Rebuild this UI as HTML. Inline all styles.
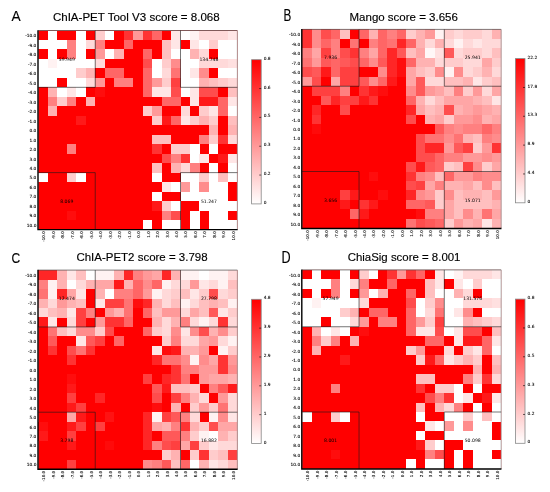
<!DOCTYPE html>
<html><head><meta charset="utf-8"><title>Figure</title>
<style>
html,body{margin:0;padding:0;background:#fff;}
svg{display:block}
text{font-family:"Liberation Sans","DejaVu Sans",sans-serif;fill:#000}
.t{font-size:11.6px;stroke:#000;stroke-width:0.15px}
.l{stroke:#000;stroke-width:0.12px}
.k,.x,.n{font-family:"DejaVu Sans","Liberation Sans",sans-serif;stroke:#000;stroke-width:0.07px}
.k{font-size:4.35px;stroke-width:0.08px}
.x{font-size:4.1px;stroke-width:0.1px}
.n{font-size:4.6px;stroke:none}
</style></head><body>
<svg width="550" height="492" viewBox="0 0 550 492">
<defs><linearGradient id="cb" x1="0" y1="0" x2="0" y2="1"><stop offset="0" stop-color="#ff0000"/><stop offset="1" stop-color="#ffffff"/></linearGradient></defs>
<rect width="550" height="492" fill="#fff"/>

<g>
<text class="l" font-size="15.3" transform="translate(11.60 21.4) scale(0.90 1)">A</text>
<text class="t" x="52.9" y="20.9" textLength="166.8" lengthAdjust="spacingAndGlyphs">ChIA-PET Tool V3 score = 8.068</text>
<rect x="38.40" y="30.50" width="198.95" height="198.95" fill="#ff0000"/>
<g shape-rendering="crispEdges">
<rect x="47.87" y="30.50" width="9.52" height="9.52" fill="#ffffff"/>
<rect x="76.30" y="30.50" width="9.52" height="9.52" fill="#ffffff"/>
<rect x="95.24" y="30.50" width="9.52" height="9.52" fill="#ffcccc"/>
<rect x="104.72" y="30.50" width="9.52" height="9.52" fill="#ffffff"/>
<rect x="123.67" y="30.50" width="9.52" height="9.52" fill="#ff3333"/>
<rect x="133.14" y="30.50" width="9.52" height="9.52" fill="#ff9999"/>
<rect x="142.61" y="30.50" width="9.52" height="9.52" fill="#ff3333"/>
<rect x="152.09" y="30.50" width="9.52" height="9.52" fill="#ff6666"/>
<rect x="171.04" y="30.50" width="9.52" height="9.52" fill="#ffe6e6"/>
<rect x="180.51" y="30.50" width="9.52" height="9.52" fill="#ffffff"/>
<rect x="189.98" y="30.50" width="9.52" height="9.52" fill="#fff2f2"/>
<rect x="199.46" y="30.50" width="28.47" height="9.52" fill="#ffd9d9"/>
<rect x="227.88" y="30.50" width="9.52" height="9.52" fill="#ffe6e6"/>
<rect x="38.40" y="39.97" width="28.47" height="9.52" fill="#ffffff"/>
<rect x="66.82" y="39.97" width="9.52" height="9.52" fill="#ff8080"/>
<rect x="76.30" y="39.97" width="9.52" height="9.52" fill="#ffffff"/>
<rect x="85.77" y="39.97" width="9.52" height="9.52" fill="#ffd9d9"/>
<rect x="95.24" y="39.97" width="9.52" height="9.52" fill="#ff8080"/>
<rect x="123.67" y="39.97" width="9.52" height="9.52" fill="#ff6666"/>
<rect x="161.56" y="39.97" width="9.52" height="9.52" fill="#ffbfbf"/>
<rect x="171.04" y="39.97" width="9.52" height="9.52" fill="#ffe6e6"/>
<rect x="189.98" y="39.97" width="9.52" height="9.52" fill="#ffe6e6"/>
<rect x="199.46" y="39.97" width="9.52" height="9.52" fill="#ffffff"/>
<rect x="208.93" y="39.97" width="9.52" height="9.52" fill="#ffcccc"/>
<rect x="218.41" y="39.97" width="19.00" height="9.52" fill="#ffffff"/>
<rect x="47.87" y="49.45" width="9.52" height="9.52" fill="#ffffff"/>
<rect x="66.82" y="49.45" width="9.52" height="9.52" fill="#ff8080"/>
<rect x="76.30" y="49.45" width="9.52" height="9.52" fill="#ffffff"/>
<rect x="95.24" y="49.45" width="9.52" height="9.52" fill="#ff9999"/>
<rect x="104.72" y="49.45" width="9.52" height="9.52" fill="#ffffff"/>
<rect x="114.19" y="49.45" width="9.52" height="9.52" fill="#ffb2b2"/>
<rect x="142.61" y="49.45" width="9.52" height="9.52" fill="#ff6666"/>
<rect x="161.56" y="49.45" width="9.52" height="9.52" fill="#ffbfbf"/>
<rect x="171.04" y="49.45" width="19.00" height="9.52" fill="#ffffff"/>
<rect x="189.98" y="49.45" width="9.52" height="9.52" fill="#ffb2b2"/>
<rect x="199.46" y="49.45" width="9.52" height="9.52" fill="#ffd9d9"/>
<rect x="218.41" y="49.45" width="19.00" height="9.52" fill="#ffffff"/>
<rect x="38.40" y="58.92" width="9.52" height="9.52" fill="#ffffff"/>
<rect x="47.87" y="58.92" width="9.52" height="9.52" fill="#fff2f2"/>
<rect x="57.35" y="58.92" width="37.95" height="9.52" fill="#ffffff"/>
<rect x="95.24" y="58.92" width="9.52" height="9.52" fill="#ffd9d9"/>
<rect x="142.61" y="58.92" width="9.52" height="9.52" fill="#ff4d4d"/>
<rect x="152.09" y="58.92" width="9.52" height="9.52" fill="#ffffff"/>
<rect x="161.56" y="58.92" width="9.52" height="9.52" fill="#ffcccc"/>
<rect x="171.04" y="58.92" width="9.52" height="9.52" fill="#ff8c8c"/>
<rect x="180.51" y="58.92" width="19.00" height="9.52" fill="#ffffff"/>
<rect x="199.46" y="58.92" width="28.47" height="9.52" fill="#ffd9d9"/>
<rect x="227.88" y="58.92" width="9.52" height="9.52" fill="#ffe0e0"/>
<rect x="38.40" y="68.40" width="37.95" height="9.52" fill="#ffffff"/>
<rect x="76.30" y="68.40" width="9.52" height="9.52" fill="#ffcccc"/>
<rect x="85.77" y="68.40" width="9.52" height="9.52" fill="#ffb2b2"/>
<rect x="104.72" y="68.40" width="19.00" height="9.52" fill="#ff6666"/>
<rect x="142.61" y="68.40" width="9.52" height="9.52" fill="#ff6666"/>
<rect x="152.09" y="68.40" width="9.52" height="9.52" fill="#ffffff"/>
<rect x="161.56" y="68.40" width="9.52" height="9.52" fill="#ffd9d9"/>
<rect x="171.04" y="68.40" width="9.52" height="9.52" fill="#ff7373"/>
<rect x="180.51" y="68.40" width="9.52" height="9.52" fill="#ffffff"/>
<rect x="189.98" y="68.40" width="9.52" height="9.52" fill="#ffe6e6"/>
<rect x="199.46" y="68.40" width="9.52" height="9.52" fill="#ff8c8c"/>
<rect x="218.41" y="68.40" width="19.00" height="9.52" fill="#ffffff"/>
<rect x="38.40" y="77.87" width="19.00" height="9.52" fill="#ffffff"/>
<rect x="66.82" y="77.87" width="19.00" height="9.52" fill="#ffffff"/>
<rect x="85.77" y="77.87" width="9.52" height="9.52" fill="#ffd9d9"/>
<rect x="95.24" y="77.87" width="9.52" height="9.52" fill="#ff9999"/>
<rect x="114.19" y="77.87" width="19.00" height="9.52" fill="#ff8080"/>
<rect x="142.61" y="77.87" width="9.52" height="9.52" fill="#ff6666"/>
<rect x="152.09" y="77.87" width="9.52" height="9.52" fill="#ff9999"/>
<rect x="161.56" y="77.87" width="9.52" height="9.52" fill="#ffcccc"/>
<rect x="171.04" y="77.87" width="9.52" height="9.52" fill="#ff4040"/>
<rect x="180.51" y="77.87" width="19.00" height="9.52" fill="#ffffff"/>
<rect x="199.46" y="77.87" width="9.52" height="9.52" fill="#ffb2b2"/>
<rect x="208.93" y="77.87" width="9.52" height="9.52" fill="#ffbfbf"/>
<rect x="218.41" y="77.87" width="9.52" height="9.52" fill="#ffcccc"/>
<rect x="227.88" y="77.87" width="9.52" height="9.52" fill="#ffd9d9"/>
<rect x="47.87" y="87.34" width="9.52" height="9.52" fill="#ffb2b2"/>
<rect x="57.35" y="87.34" width="9.52" height="9.52" fill="#ffffff"/>
<rect x="66.82" y="87.34" width="9.52" height="9.52" fill="#ffe6e6"/>
<rect x="76.30" y="87.34" width="9.52" height="9.52" fill="#ffffff"/>
<rect x="95.24" y="87.34" width="9.52" height="9.52" fill="#ff0d0d"/>
<rect x="142.61" y="87.34" width="9.52" height="9.52" fill="#ff6666"/>
<rect x="152.09" y="87.34" width="19.00" height="9.52" fill="#ffe6e6"/>
<rect x="171.04" y="87.34" width="9.52" height="9.52" fill="#ff4d4d"/>
<rect x="180.51" y="87.34" width="9.52" height="9.52" fill="#ffffff"/>
<rect x="189.98" y="87.34" width="9.52" height="9.52" fill="#ffe6e6"/>
<rect x="199.46" y="87.34" width="19.00" height="9.52" fill="#ff4d4d"/>
<rect x="227.88" y="87.34" width="9.52" height="9.52" fill="#ffbfbf"/>
<rect x="47.87" y="96.82" width="9.52" height="9.52" fill="#ff8080"/>
<rect x="57.35" y="96.82" width="9.52" height="9.52" fill="#ffcccc"/>
<rect x="66.82" y="96.82" width="9.52" height="9.52" fill="#ff8080"/>
<rect x="85.77" y="96.82" width="9.52" height="9.52" fill="#ffb2b2"/>
<rect x="161.56" y="96.82" width="19.00" height="9.52" fill="#ff6666"/>
<rect x="189.98" y="96.82" width="9.52" height="9.52" fill="#ffe6e6"/>
<rect x="199.46" y="96.82" width="19.00" height="9.52" fill="#ff1919"/>
<rect x="218.41" y="96.82" width="9.52" height="9.52" fill="#ff6666"/>
<rect x="227.88" y="96.82" width="9.52" height="9.52" fill="#ffe6e6"/>
<rect x="47.87" y="106.29" width="9.52" height="9.52" fill="#ffb2b2"/>
<rect x="142.61" y="106.29" width="9.52" height="9.52" fill="#ffcccc"/>
<rect x="152.09" y="106.29" width="9.52" height="9.52" fill="#ff9999"/>
<rect x="180.51" y="106.29" width="9.52" height="9.52" fill="#ffd9d9"/>
<rect x="199.46" y="106.29" width="9.52" height="9.52" fill="#ffcccc"/>
<rect x="208.93" y="106.29" width="9.52" height="9.52" fill="#ffe6e6"/>
<rect x="218.41" y="106.29" width="9.52" height="9.52" fill="#ff6666"/>
<rect x="227.88" y="106.29" width="9.52" height="9.52" fill="#ffffff"/>
<rect x="76.30" y="115.77" width="9.52" height="9.52" fill="#ff1919"/>
<rect x="152.09" y="115.77" width="9.52" height="9.52" fill="#ffcccc"/>
<rect x="161.56" y="115.77" width="9.52" height="9.52" fill="#ff1919"/>
<rect x="171.04" y="115.77" width="9.52" height="9.52" fill="#ff6666"/>
<rect x="180.51" y="115.77" width="9.52" height="9.52" fill="#ffe6e6"/>
<rect x="189.98" y="115.77" width="9.52" height="9.52" fill="#ffcccc"/>
<rect x="199.46" y="115.77" width="9.52" height="9.52" fill="#ffb2b2"/>
<rect x="208.93" y="115.77" width="9.52" height="9.52" fill="#ffcccc"/>
<rect x="227.88" y="115.77" width="9.52" height="9.52" fill="#ffbfbf"/>
<rect x="208.93" y="125.24" width="9.52" height="9.52" fill="#ffb2b2"/>
<rect x="227.88" y="125.24" width="9.52" height="9.52" fill="#ffb2b2"/>
<rect x="152.09" y="134.71" width="19.00" height="9.52" fill="#ffbfbf"/>
<rect x="199.46" y="134.71" width="9.52" height="9.52" fill="#ff8080"/>
<rect x="208.93" y="134.71" width="9.52" height="9.52" fill="#ffcccc"/>
<rect x="218.41" y="134.71" width="9.52" height="9.52" fill="#ff3333"/>
<rect x="227.88" y="134.71" width="9.52" height="9.52" fill="#ffd9d9"/>
<rect x="66.82" y="144.19" width="9.52" height="9.52" fill="#ff8080"/>
<rect x="152.09" y="144.19" width="9.52" height="9.52" fill="#ff3333"/>
<rect x="171.04" y="144.19" width="19.00" height="9.52" fill="#ffcccc"/>
<rect x="189.98" y="144.19" width="9.52" height="9.52" fill="#ffffff"/>
<rect x="208.93" y="144.19" width="9.52" height="9.52" fill="#ffffff"/>
<rect x="161.56" y="153.66" width="9.52" height="9.52" fill="#ff4d4d"/>
<rect x="171.04" y="153.66" width="9.52" height="9.52" fill="#ff8080"/>
<rect x="180.51" y="153.66" width="9.52" height="9.52" fill="#ff3333"/>
<rect x="189.98" y="153.66" width="9.52" height="9.52" fill="#ffffff"/>
<rect x="199.46" y="153.66" width="9.52" height="9.52" fill="#ffe6e6"/>
<rect x="218.41" y="153.66" width="9.52" height="9.52" fill="#ff1919"/>
<rect x="227.88" y="153.66" width="9.52" height="9.52" fill="#ffe6e6"/>
<rect x="152.09" y="163.14" width="9.52" height="9.52" fill="#ffbfbf"/>
<rect x="171.04" y="163.14" width="9.52" height="9.52" fill="#ffb2b2"/>
<rect x="180.51" y="163.14" width="9.52" height="9.52" fill="#ffd9d9"/>
<rect x="189.98" y="163.14" width="9.52" height="9.52" fill="#ff8080"/>
<rect x="208.93" y="163.14" width="9.52" height="9.52" fill="#ffffff"/>
<rect x="227.88" y="163.14" width="9.52" height="9.52" fill="#ffffff"/>
<rect x="38.40" y="172.61" width="9.52" height="9.52" fill="#ffffff"/>
<rect x="66.82" y="172.61" width="9.52" height="9.52" fill="#ffcccc"/>
<rect x="76.30" y="172.61" width="9.52" height="9.52" fill="#ffffff"/>
<rect x="152.09" y="172.61" width="9.52" height="9.52" fill="#ffffff"/>
<rect x="180.51" y="172.61" width="19.00" height="9.52" fill="#ffffff"/>
<rect x="199.46" y="172.61" width="9.52" height="9.52" fill="#ffcccc"/>
<rect x="208.93" y="172.61" width="9.52" height="9.52" fill="#ffffff"/>
<rect x="218.41" y="172.61" width="9.52" height="9.52" fill="#ffbfbf"/>
<rect x="227.88" y="172.61" width="9.52" height="9.52" fill="#ffffff"/>
<rect x="161.56" y="182.08" width="9.52" height="9.52" fill="#ffe6e6"/>
<rect x="171.04" y="182.08" width="9.52" height="9.52" fill="#ffffff"/>
<rect x="180.51" y="182.08" width="9.52" height="9.52" fill="#ff9999"/>
<rect x="189.98" y="182.08" width="9.52" height="9.52" fill="#ffffff"/>
<rect x="199.46" y="182.08" width="9.52" height="9.52" fill="#ff8c8c"/>
<rect x="208.93" y="182.08" width="19.00" height="9.52" fill="#ffffff"/>
<rect x="152.09" y="191.56" width="9.52" height="9.52" fill="#ffffff"/>
<rect x="180.51" y="191.56" width="47.42" height="9.52" fill="#ffffff"/>
<rect x="152.09" y="201.03" width="9.52" height="9.52" fill="#ff1919"/>
<rect x="161.56" y="201.03" width="9.52" height="9.52" fill="#ffcccc"/>
<rect x="171.04" y="201.03" width="9.52" height="9.52" fill="#ffffff"/>
<rect x="199.46" y="201.03" width="37.95" height="9.52" fill="#ffffff"/>
<rect x="66.82" y="210.51" width="9.52" height="9.52" fill="#ff0d0d"/>
<rect x="161.56" y="210.51" width="9.52" height="9.52" fill="#ff8080"/>
<rect x="171.04" y="210.51" width="9.52" height="9.52" fill="#ff4d4d"/>
<rect x="189.98" y="210.51" width="9.52" height="9.52" fill="#ffffff"/>
<rect x="208.93" y="210.51" width="19.00" height="9.52" fill="#ffffff"/>
<rect x="142.61" y="219.98" width="9.52" height="9.52" fill="#ffffff"/>
<rect x="161.56" y="219.98" width="19.00" height="9.52" fill="#ffffff"/>
<rect x="189.98" y="219.98" width="9.52" height="9.52" fill="#ffffff"/>
<rect x="208.93" y="219.98" width="28.47" height="9.52" fill="#ffffff"/>
</g>
<path d="M38.40 30.50H237.35" fill="none" stroke="#4a4a4a" stroke-width="0.7"/>
<path d="M237.35 30.50V229.45" fill="none" stroke="#888" stroke-width="0.7"/>
<path d="M38.40 87.34h56.84v-56.84 M237.35 87.34h-56.84v-56.84 M38.40 172.61h56.84v56.84 M237.35 172.61h-56.84v56.84" fill="none" stroke="#1a1a1a" stroke-width="0.6"/>
<path d="M38.00 30.20V229.60H237.65" fill="none" stroke="#000" stroke-width="1.4"/>
<text class="k" text-anchor="end" x="36.40" y="37.34">-10.0</text>
<text class="x" text-anchor="end" transform="translate(45.34 231.25) rotate(-90)">-10.0</text>
<text class="k" text-anchor="end" x="36.40" y="46.81">-9.0</text>
<text class="x" text-anchor="end" transform="translate(54.81 231.25) rotate(-90)">-9.0</text>
<text class="k" text-anchor="end" x="36.40" y="56.29">-8.0</text>
<text class="x" text-anchor="end" transform="translate(64.28 231.25) rotate(-90)">-8.0</text>
<text class="k" text-anchor="end" x="36.40" y="65.76">-7.0</text>
<text class="x" text-anchor="end" transform="translate(73.76 231.25) rotate(-90)">-7.0</text>
<text class="k" text-anchor="end" x="36.40" y="75.23">-6.0</text>
<text class="x" text-anchor="end" transform="translate(83.23 231.25) rotate(-90)">-6.0</text>
<text class="k" text-anchor="end" x="36.40" y="84.71">-5.0</text>
<text class="x" text-anchor="end" transform="translate(92.71 231.25) rotate(-90)">-5.0</text>
<text class="k" text-anchor="end" x="36.40" y="94.18">-4.0</text>
<text class="x" text-anchor="end" transform="translate(102.18 231.25) rotate(-90)">-4.0</text>
<text class="k" text-anchor="end" x="36.40" y="103.66">-3.0</text>
<text class="x" text-anchor="end" transform="translate(111.66 231.25) rotate(-90)">-3.0</text>
<text class="k" text-anchor="end" x="36.40" y="113.13">-2.0</text>
<text class="x" text-anchor="end" transform="translate(121.13 231.25) rotate(-90)">-2.0</text>
<text class="k" text-anchor="end" x="36.40" y="122.60">-1.0</text>
<text class="x" text-anchor="end" transform="translate(130.60 231.25) rotate(-90)">-1.0</text>
<text class="k" text-anchor="end" x="36.40" y="132.08">0.0</text>
<text class="x" text-anchor="end" transform="translate(140.08 231.25) rotate(-90)">0.0</text>
<text class="k" text-anchor="end" x="36.40" y="141.55">1.0</text>
<text class="x" text-anchor="end" transform="translate(149.55 231.25) rotate(-90)">1.0</text>
<text class="k" text-anchor="end" x="36.40" y="151.03">2.0</text>
<text class="x" text-anchor="end" transform="translate(159.02 231.25) rotate(-90)">2.0</text>
<text class="k" text-anchor="end" x="36.40" y="160.50">3.0</text>
<text class="x" text-anchor="end" transform="translate(168.50 231.25) rotate(-90)">3.0</text>
<text class="k" text-anchor="end" x="36.40" y="169.97">4.0</text>
<text class="x" text-anchor="end" transform="translate(177.97 231.25) rotate(-90)">4.0</text>
<text class="k" text-anchor="end" x="36.40" y="179.45">5.0</text>
<text class="x" text-anchor="end" transform="translate(187.45 231.25) rotate(-90)">5.0</text>
<text class="k" text-anchor="end" x="36.40" y="188.92">6.0</text>
<text class="x" text-anchor="end" transform="translate(196.92 231.25) rotate(-90)">6.0</text>
<text class="k" text-anchor="end" x="36.40" y="198.40">7.0</text>
<text class="x" text-anchor="end" transform="translate(206.40 231.25) rotate(-90)">7.0</text>
<text class="k" text-anchor="end" x="36.40" y="207.87">8.0</text>
<text class="x" text-anchor="end" transform="translate(215.87 231.25) rotate(-90)">8.0</text>
<text class="k" text-anchor="end" x="36.40" y="217.34">9.0</text>
<text class="x" text-anchor="end" transform="translate(225.34 231.25) rotate(-90)">9.0</text>
<text class="k" text-anchor="end" x="36.40" y="226.82">10.0</text>
<text class="x" text-anchor="end" transform="translate(234.82 231.25) rotate(-90)">10.0</text>
<text class="n" text-anchor="middle" x="66.82" y="60.53">59.949</text>
<text class="n" text-anchor="middle" x="208.93" y="60.53">134.748</text>
<text class="n" text-anchor="middle" x="66.82" y="202.64">8.069</text>
<text class="n" text-anchor="middle" x="208.93" y="202.64">51.247</text>
<rect x="251.60" y="59.70" width="9.60" height="144.20" fill="url(#cb)" stroke="#888" stroke-width="0.8"/>
<text class="k" x="263.70" y="59.80">0.8</text>
<path d="M261.20 88.54h-2" stroke="#000" stroke-width="0.6"/>
<text class="k" x="263.70" y="88.64">0.6</text>
<path d="M261.20 117.38h-2" stroke="#000" stroke-width="0.6"/>
<text class="k" x="263.70" y="117.48">0.5</text>
<path d="M261.20 146.22h-2" stroke="#000" stroke-width="0.6"/>
<text class="k" x="263.70" y="146.32">0.3</text>
<path d="M261.20 175.06h-2" stroke="#000" stroke-width="0.6"/>
<text class="k" x="263.70" y="175.16">0.2</text>
<text class="k" x="263.70" y="204.00">0</text>
</g>
<g>
<text class="l" font-size="15.8" transform="translate(283.40 20.7) scale(0.74 1)">B</text>
<text class="t" x="349.5" y="20.7" textLength="108.4" lengthAdjust="spacingAndGlyphs">Mango score = 3.656</text>
<rect x="302.20" y="29.40" width="198.95" height="198.95" fill="#ff0000"/>
<g shape-rendering="crispEdges">
<rect x="302.20" y="29.40" width="9.52" height="9.52" fill="#ff3333"/>
<rect x="311.67" y="29.40" width="9.52" height="9.52" fill="#ff8c8c"/>
<rect x="321.15" y="29.40" width="9.52" height="9.52" fill="#ff4d4d"/>
<rect x="330.62" y="29.40" width="9.52" height="9.52" fill="#ff6666"/>
<rect x="340.10" y="29.40" width="9.52" height="9.52" fill="#ffbfbf"/>
<rect x="359.04" y="29.40" width="9.52" height="9.52" fill="#ff6666"/>
<rect x="368.52" y="29.40" width="9.52" height="9.52" fill="#ffb2b2"/>
<rect x="377.99" y="29.40" width="9.52" height="9.52" fill="#ff6666"/>
<rect x="387.47" y="29.40" width="9.52" height="9.52" fill="#ff8080"/>
<rect x="396.94" y="29.40" width="9.52" height="9.52" fill="#ff6666"/>
<rect x="406.41" y="29.40" width="9.52" height="9.52" fill="#ffcccc"/>
<rect x="415.89" y="29.40" width="9.52" height="9.52" fill="#ffb2b2"/>
<rect x="425.36" y="29.40" width="9.52" height="9.52" fill="#ff9999"/>
<rect x="434.84" y="29.40" width="9.52" height="9.52" fill="#fff2f2"/>
<rect x="444.31" y="29.40" width="9.52" height="9.52" fill="#ffcccc"/>
<rect x="453.78" y="29.40" width="9.52" height="9.52" fill="#ffd9d9"/>
<rect x="463.26" y="29.40" width="19.00" height="9.52" fill="#ffcccc"/>
<rect x="482.21" y="29.40" width="9.52" height="9.52" fill="#ffd9d9"/>
<rect x="491.68" y="29.40" width="9.52" height="9.52" fill="#ffb2b2"/>
<rect x="302.20" y="38.87" width="9.52" height="9.52" fill="#ff3333"/>
<rect x="311.67" y="38.87" width="9.52" height="9.52" fill="#ff8c8c"/>
<rect x="321.15" y="38.87" width="9.52" height="9.52" fill="#ff6666"/>
<rect x="330.62" y="38.87" width="9.52" height="9.52" fill="#ff8080"/>
<rect x="349.57" y="38.87" width="9.52" height="9.52" fill="#ff7373"/>
<rect x="368.52" y="38.87" width="9.52" height="9.52" fill="#ff8080"/>
<rect x="377.99" y="38.87" width="9.52" height="9.52" fill="#ff6666"/>
<rect x="387.47" y="38.87" width="9.52" height="9.52" fill="#ff7373"/>
<rect x="396.94" y="38.87" width="9.52" height="9.52" fill="#ff2626"/>
<rect x="406.41" y="38.87" width="9.52" height="9.52" fill="#ff6666"/>
<rect x="415.89" y="38.87" width="9.52" height="9.52" fill="#ffb2b2"/>
<rect x="425.36" y="38.87" width="9.52" height="9.52" fill="#ffd9d9"/>
<rect x="434.84" y="38.87" width="9.52" height="9.52" fill="#ffb2b2"/>
<rect x="444.31" y="38.87" width="9.52" height="9.52" fill="#ffd9d9"/>
<rect x="453.78" y="38.87" width="9.52" height="9.52" fill="#fff2f2"/>
<rect x="463.26" y="38.87" width="9.52" height="9.52" fill="#ffd9d9"/>
<rect x="472.73" y="38.87" width="9.52" height="9.52" fill="#ffe6e6"/>
<rect x="482.21" y="38.87" width="19.00" height="9.52" fill="#ffd9d9"/>
<rect x="302.20" y="48.35" width="9.52" height="9.52" fill="#ff8080"/>
<rect x="311.67" y="48.35" width="9.52" height="9.52" fill="#ffa6a6"/>
<rect x="321.15" y="48.35" width="9.52" height="9.52" fill="#ff4040"/>
<rect x="330.62" y="48.35" width="9.52" height="9.52" fill="#ff8080"/>
<rect x="340.10" y="48.35" width="9.52" height="9.52" fill="#ff4d4d"/>
<rect x="349.57" y="48.35" width="9.52" height="9.52" fill="#ff3333"/>
<rect x="359.04" y="48.35" width="9.52" height="9.52" fill="#ff8080"/>
<rect x="368.52" y="48.35" width="9.52" height="9.52" fill="#ffa6a6"/>
<rect x="377.99" y="48.35" width="9.52" height="9.52" fill="#ff6666"/>
<rect x="387.47" y="48.35" width="9.52" height="9.52" fill="#ff2626"/>
<rect x="396.94" y="48.35" width="9.52" height="9.52" fill="#ff5959"/>
<rect x="406.41" y="48.35" width="9.52" height="9.52" fill="#ffbfbf"/>
<rect x="415.89" y="48.35" width="9.52" height="9.52" fill="#ffa6a6"/>
<rect x="425.36" y="48.35" width="9.52" height="9.52" fill="#fff7f7"/>
<rect x="434.84" y="48.35" width="9.52" height="9.52" fill="#ffe0e0"/>
<rect x="444.31" y="48.35" width="9.52" height="9.52" fill="#ff5959"/>
<rect x="453.78" y="48.35" width="9.52" height="9.52" fill="#ffd9d9"/>
<rect x="463.26" y="48.35" width="19.00" height="9.52" fill="#ffcccc"/>
<rect x="482.21" y="48.35" width="9.52" height="9.52" fill="#ffd9d9"/>
<rect x="491.68" y="48.35" width="9.52" height="9.52" fill="#ffbfbf"/>
<rect x="302.20" y="57.82" width="9.52" height="9.52" fill="#ff7373"/>
<rect x="311.67" y="57.82" width="9.52" height="9.52" fill="#ff9999"/>
<rect x="321.15" y="57.82" width="9.52" height="9.52" fill="#ff5959"/>
<rect x="330.62" y="57.82" width="9.52" height="9.52" fill="#ff6666"/>
<rect x="340.10" y="57.82" width="9.52" height="9.52" fill="#ff5959"/>
<rect x="349.57" y="57.82" width="9.52" height="9.52" fill="#ff4d4d"/>
<rect x="359.04" y="57.82" width="9.52" height="9.52" fill="#ff6666"/>
<rect x="368.52" y="57.82" width="9.52" height="9.52" fill="#ff8c8c"/>
<rect x="377.99" y="57.82" width="9.52" height="9.52" fill="#ff5959"/>
<rect x="387.47" y="57.82" width="9.52" height="9.52" fill="#ff2626"/>
<rect x="396.94" y="57.82" width="9.52" height="9.52" fill="#ff0d0d"/>
<rect x="406.41" y="57.82" width="9.52" height="9.52" fill="#ff6666"/>
<rect x="415.89" y="57.82" width="19.00" height="9.52" fill="#ffb2b2"/>
<rect x="434.84" y="57.82" width="9.52" height="9.52" fill="#ffd9d9"/>
<rect x="444.31" y="57.82" width="19.00" height="9.52" fill="#ffcccc"/>
<rect x="463.26" y="57.82" width="19.00" height="9.52" fill="#ffd9d9"/>
<rect x="482.21" y="57.82" width="9.52" height="9.52" fill="#ffa6a6"/>
<rect x="491.68" y="57.82" width="9.52" height="9.52" fill="#ffcccc"/>
<rect x="302.20" y="67.30" width="9.52" height="9.52" fill="#ff4d4d"/>
<rect x="311.67" y="67.30" width="9.52" height="9.52" fill="#ff5959"/>
<rect x="321.15" y="67.30" width="9.52" height="9.52" fill="#ff1919"/>
<rect x="330.62" y="67.30" width="9.52" height="9.52" fill="#ff6666"/>
<rect x="340.10" y="67.30" width="19.00" height="9.52" fill="#ff4040"/>
<rect x="377.99" y="67.30" width="9.52" height="9.52" fill="#ff8c8c"/>
<rect x="387.47" y="67.30" width="9.52" height="9.52" fill="#ff2626"/>
<rect x="396.94" y="67.30" width="9.52" height="9.52" fill="#ff0d0d"/>
<rect x="406.41" y="67.30" width="9.52" height="9.52" fill="#ffa6a6"/>
<rect x="415.89" y="67.30" width="9.52" height="9.52" fill="#ffbfbf"/>
<rect x="425.36" y="67.30" width="9.52" height="9.52" fill="#ffcccc"/>
<rect x="434.84" y="67.30" width="9.52" height="9.52" fill="#ff8c8c"/>
<rect x="444.31" y="67.30" width="9.52" height="9.52" fill="#fff2f2"/>
<rect x="453.78" y="67.30" width="9.52" height="9.52" fill="#ff8c8c"/>
<rect x="463.26" y="67.30" width="9.52" height="9.52" fill="#ffd9d9"/>
<rect x="472.73" y="67.30" width="9.52" height="9.52" fill="#ffcccc"/>
<rect x="482.21" y="67.30" width="9.52" height="9.52" fill="#ffb2b2"/>
<rect x="491.68" y="67.30" width="9.52" height="9.52" fill="#ffd9d9"/>
<rect x="302.20" y="76.77" width="9.52" height="9.52" fill="#ff9999"/>
<rect x="311.67" y="76.77" width="9.52" height="9.52" fill="#ff4d4d"/>
<rect x="330.62" y="76.77" width="9.52" height="9.52" fill="#ffa6a6"/>
<rect x="340.10" y="76.77" width="19.00" height="9.52" fill="#ff4040"/>
<rect x="359.04" y="76.77" width="9.52" height="9.52" fill="#ff5959"/>
<rect x="368.52" y="76.77" width="9.52" height="9.52" fill="#ff8c8c"/>
<rect x="377.99" y="76.77" width="9.52" height="9.52" fill="#ff6666"/>
<rect x="387.47" y="76.77" width="9.52" height="9.52" fill="#ff1919"/>
<rect x="406.41" y="76.77" width="9.52" height="9.52" fill="#ffa6a6"/>
<rect x="415.89" y="76.77" width="9.52" height="9.52" fill="#ff5959"/>
<rect x="425.36" y="76.77" width="19.00" height="9.52" fill="#ffd9d9"/>
<rect x="444.31" y="76.77" width="19.00" height="9.52" fill="#ffbfbf"/>
<rect x="463.26" y="76.77" width="9.52" height="9.52" fill="#ffb2b2"/>
<rect x="472.73" y="76.77" width="9.52" height="9.52" fill="#ffe6e6"/>
<rect x="482.21" y="76.77" width="9.52" height="9.52" fill="#ffcccc"/>
<rect x="491.68" y="76.77" width="9.52" height="9.52" fill="#ffbfbf"/>
<rect x="311.67" y="86.24" width="28.47" height="9.52" fill="#ff4040"/>
<rect x="340.10" y="86.24" width="9.52" height="9.52" fill="#ff8080"/>
<rect x="359.04" y="86.24" width="9.52" height="9.52" fill="#ff3333"/>
<rect x="368.52" y="86.24" width="9.52" height="9.52" fill="#ff1919"/>
<rect x="377.99" y="86.24" width="9.52" height="9.52" fill="#ff0d0d"/>
<rect x="406.41" y="86.24" width="9.52" height="9.52" fill="#ff8c8c"/>
<rect x="415.89" y="86.24" width="9.52" height="9.52" fill="#ff5959"/>
<rect x="425.36" y="86.24" width="9.52" height="9.52" fill="#ff9999"/>
<rect x="434.84" y="86.24" width="9.52" height="9.52" fill="#ffa6a6"/>
<rect x="444.31" y="86.24" width="9.52" height="9.52" fill="#ffbfbf"/>
<rect x="453.78" y="86.24" width="9.52" height="9.52" fill="#ff8080"/>
<rect x="463.26" y="86.24" width="9.52" height="9.52" fill="#ffcccc"/>
<rect x="472.73" y="86.24" width="9.52" height="9.52" fill="#ff9999"/>
<rect x="482.21" y="86.24" width="9.52" height="9.52" fill="#ffd9d9"/>
<rect x="491.68" y="86.24" width="9.52" height="9.52" fill="#ffa6a6"/>
<rect x="321.15" y="95.72" width="9.52" height="9.52" fill="#ff5959"/>
<rect x="330.62" y="95.72" width="9.52" height="9.52" fill="#ff2626"/>
<rect x="340.10" y="95.72" width="19.00" height="9.52" fill="#ff4040"/>
<rect x="359.04" y="95.72" width="9.52" height="9.52" fill="#ff1919"/>
<rect x="368.52" y="95.72" width="9.52" height="9.52" fill="#ff3333"/>
<rect x="406.41" y="95.72" width="9.52" height="9.52" fill="#ff6666"/>
<rect x="415.89" y="95.72" width="9.52" height="9.52" fill="#ffb2b2"/>
<rect x="425.36" y="95.72" width="9.52" height="9.52" fill="#ffd9d9"/>
<rect x="434.84" y="95.72" width="9.52" height="9.52" fill="#ffbfbf"/>
<rect x="444.31" y="95.72" width="28.47" height="9.52" fill="#ffa6a6"/>
<rect x="472.73" y="95.72" width="9.52" height="9.52" fill="#ffb2b2"/>
<rect x="482.21" y="95.72" width="9.52" height="9.52" fill="#ffbfbf"/>
<rect x="491.68" y="95.72" width="9.52" height="9.52" fill="#ffe6e6"/>
<rect x="311.67" y="105.19" width="9.52" height="9.52" fill="#ff2626"/>
<rect x="340.10" y="105.19" width="9.52" height="9.52" fill="#ff4d4d"/>
<rect x="406.41" y="105.19" width="9.52" height="9.52" fill="#ff2626"/>
<rect x="415.89" y="105.19" width="9.52" height="9.52" fill="#ffa6a6"/>
<rect x="425.36" y="105.19" width="9.52" height="9.52" fill="#ffbfbf"/>
<rect x="434.84" y="105.19" width="9.52" height="9.52" fill="#ffb2b2"/>
<rect x="444.31" y="105.19" width="9.52" height="9.52" fill="#ff4d4d"/>
<rect x="453.78" y="105.19" width="9.52" height="9.52" fill="#ffb2b2"/>
<rect x="463.26" y="105.19" width="9.52" height="9.52" fill="#ffa6a6"/>
<rect x="472.73" y="105.19" width="9.52" height="9.52" fill="#ff9999"/>
<rect x="482.21" y="105.19" width="9.52" height="9.52" fill="#ffa6a6"/>
<rect x="491.68" y="105.19" width="9.52" height="9.52" fill="#ffb2b2"/>
<rect x="311.67" y="114.67" width="9.52" height="9.52" fill="#ff3333"/>
<rect x="406.41" y="114.67" width="9.52" height="9.52" fill="#ff4d4d"/>
<rect x="425.36" y="114.67" width="9.52" height="9.52" fill="#ffb2b2"/>
<rect x="434.84" y="114.67" width="9.52" height="9.52" fill="#ffa6a6"/>
<rect x="444.31" y="114.67" width="9.52" height="9.52" fill="#ffcccc"/>
<rect x="453.78" y="114.67" width="19.00" height="9.52" fill="#ff9999"/>
<rect x="472.73" y="114.67" width="9.52" height="9.52" fill="#ff8c8c"/>
<rect x="482.21" y="114.67" width="9.52" height="9.52" fill="#ffb2b2"/>
<rect x="491.68" y="114.67" width="9.52" height="9.52" fill="#ffa6a6"/>
<rect x="311.67" y="124.14" width="9.52" height="9.52" fill="#ff0a0a"/>
<rect x="434.84" y="124.14" width="9.52" height="9.52" fill="#ff5959"/>
<rect x="444.31" y="124.14" width="9.52" height="9.52" fill="#ff8080"/>
<rect x="453.78" y="124.14" width="9.52" height="9.52" fill="#ff8c8c"/>
<rect x="463.26" y="124.14" width="19.00" height="9.52" fill="#ff8080"/>
<rect x="482.21" y="124.14" width="9.52" height="9.52" fill="#ff6666"/>
<rect x="491.68" y="124.14" width="9.52" height="9.52" fill="#ff8080"/>
<rect x="415.89" y="133.61" width="9.52" height="9.52" fill="#ff4d4d"/>
<rect x="425.36" y="133.61" width="19.00" height="9.52" fill="#ff7373"/>
<rect x="444.31" y="133.61" width="9.52" height="9.52" fill="#ff8c8c"/>
<rect x="453.78" y="133.61" width="9.52" height="9.52" fill="#ff7373"/>
<rect x="463.26" y="133.61" width="9.52" height="9.52" fill="#ffb2b2"/>
<rect x="472.73" y="133.61" width="9.52" height="9.52" fill="#ffbfbf"/>
<rect x="482.21" y="133.61" width="9.52" height="9.52" fill="#ff8080"/>
<rect x="491.68" y="133.61" width="9.52" height="9.52" fill="#ff8c8c"/>
<rect x="415.89" y="143.09" width="9.52" height="9.52" fill="#ff4d4d"/>
<rect x="425.36" y="143.09" width="19.00" height="9.52" fill="#ff2626"/>
<rect x="444.31" y="143.09" width="9.52" height="9.52" fill="#ff9999"/>
<rect x="453.78" y="143.09" width="9.52" height="9.52" fill="#ff5959"/>
<rect x="463.26" y="143.09" width="9.52" height="9.52" fill="#ff4040"/>
<rect x="472.73" y="143.09" width="9.52" height="9.52" fill="#ffcccc"/>
<rect x="482.21" y="143.09" width="9.52" height="9.52" fill="#ff9999"/>
<rect x="491.68" y="143.09" width="9.52" height="9.52" fill="#ff3333"/>
<rect x="415.89" y="152.56" width="19.00" height="9.52" fill="#ff4d4d"/>
<rect x="434.84" y="152.56" width="9.52" height="9.52" fill="#ff6666"/>
<rect x="444.31" y="152.56" width="19.00" height="9.52" fill="#ff8080"/>
<rect x="463.26" y="152.56" width="19.00" height="9.52" fill="#ff9999"/>
<rect x="482.21" y="152.56" width="9.52" height="9.52" fill="#ff8c8c"/>
<rect x="491.68" y="152.56" width="9.52" height="9.52" fill="#ff9999"/>
<rect x="406.41" y="162.04" width="9.52" height="9.52" fill="#ff4d4d"/>
<rect x="415.89" y="162.04" width="9.52" height="9.52" fill="#ff1919"/>
<rect x="425.36" y="162.04" width="9.52" height="9.52" fill="#ff5959"/>
<rect x="434.84" y="162.04" width="9.52" height="9.52" fill="#ff6666"/>
<rect x="444.31" y="162.04" width="9.52" height="9.52" fill="#ffcccc"/>
<rect x="453.78" y="162.04" width="9.52" height="9.52" fill="#ffbfbf"/>
<rect x="463.26" y="162.04" width="9.52" height="9.52" fill="#ff4040"/>
<rect x="472.73" y="162.04" width="9.52" height="9.52" fill="#ff8c8c"/>
<rect x="482.21" y="162.04" width="9.52" height="9.52" fill="#ffcccc"/>
<rect x="491.68" y="162.04" width="9.52" height="9.52" fill="#ffa6a6"/>
<rect x="368.52" y="171.51" width="9.52" height="9.52" fill="#ff0d0d"/>
<rect x="406.41" y="171.51" width="9.52" height="9.52" fill="#ff3333"/>
<rect x="415.89" y="171.51" width="9.52" height="9.52" fill="#ff8080"/>
<rect x="425.36" y="171.51" width="9.52" height="9.52" fill="#ff8c8c"/>
<rect x="434.84" y="171.51" width="9.52" height="9.52" fill="#ffbfbf"/>
<rect x="444.31" y="171.51" width="9.52" height="9.52" fill="#ff6666"/>
<rect x="453.78" y="171.51" width="19.00" height="9.52" fill="#ff9999"/>
<rect x="472.73" y="171.51" width="9.52" height="9.52" fill="#ff8080"/>
<rect x="482.21" y="171.51" width="19.00" height="9.52" fill="#ff8c8c"/>
<rect x="406.41" y="180.98" width="9.52" height="9.52" fill="#ff4d4d"/>
<rect x="415.89" y="180.98" width="9.52" height="9.52" fill="#ff4040"/>
<rect x="425.36" y="180.98" width="9.52" height="9.52" fill="#ffa6a6"/>
<rect x="434.84" y="180.98" width="9.52" height="9.52" fill="#ff8080"/>
<rect x="444.31" y="180.98" width="19.00" height="9.52" fill="#ffb2b2"/>
<rect x="463.26" y="180.98" width="9.52" height="9.52" fill="#ffa6a6"/>
<rect x="472.73" y="180.98" width="9.52" height="9.52" fill="#ffbfbf"/>
<rect x="482.21" y="180.98" width="9.52" height="9.52" fill="#ff8c8c"/>
<rect x="491.68" y="180.98" width="9.52" height="9.52" fill="#ffbfbf"/>
<rect x="340.10" y="190.46" width="9.52" height="9.52" fill="#ff4040"/>
<rect x="349.57" y="190.46" width="9.52" height="9.52" fill="#ff1919"/>
<rect x="377.99" y="190.46" width="9.52" height="9.52" fill="#ff0d0d"/>
<rect x="406.41" y="190.46" width="9.52" height="9.52" fill="#ff2626"/>
<rect x="415.89" y="190.46" width="9.52" height="9.52" fill="#ff8c8c"/>
<rect x="425.36" y="190.46" width="9.52" height="9.52" fill="#ff9999"/>
<rect x="434.84" y="190.46" width="9.52" height="9.52" fill="#ffcccc"/>
<rect x="444.31" y="190.46" width="9.52" height="9.52" fill="#ff8c8c"/>
<rect x="453.78" y="190.46" width="9.52" height="9.52" fill="#ffbfbf"/>
<rect x="463.26" y="190.46" width="19.00" height="9.52" fill="#ffb2b2"/>
<rect x="482.21" y="190.46" width="9.52" height="9.52" fill="#ffbfbf"/>
<rect x="491.68" y="190.46" width="9.52" height="9.52" fill="#ff9999"/>
<rect x="340.10" y="199.93" width="9.52" height="9.52" fill="#ff1919"/>
<rect x="359.04" y="199.93" width="9.52" height="9.52" fill="#ff3333"/>
<rect x="368.52" y="199.93" width="9.52" height="9.52" fill="#ff1919"/>
<rect x="406.41" y="199.93" width="19.00" height="9.52" fill="#ff6666"/>
<rect x="425.36" y="199.93" width="9.52" height="9.52" fill="#ff5959"/>
<rect x="434.84" y="199.93" width="9.52" height="9.52" fill="#ffcccc"/>
<rect x="444.31" y="199.93" width="9.52" height="9.52" fill="#ffa6a6"/>
<rect x="453.78" y="199.93" width="37.95" height="9.52" fill="#ffbfbf"/>
<rect x="491.68" y="199.93" width="9.52" height="9.52" fill="#ffb2b2"/>
<rect x="349.57" y="209.41" width="9.52" height="9.52" fill="#ff6666"/>
<rect x="359.04" y="209.41" width="9.52" height="9.52" fill="#ff1919"/>
<rect x="415.89" y="209.41" width="9.52" height="9.52" fill="#ff0d0d"/>
<rect x="425.36" y="209.41" width="19.00" height="9.52" fill="#ff8080"/>
<rect x="444.31" y="209.41" width="9.52" height="9.52" fill="#ffa6a6"/>
<rect x="453.78" y="209.41" width="9.52" height="9.52" fill="#ffbfbf"/>
<rect x="463.26" y="209.41" width="9.52" height="9.52" fill="#ff8c8c"/>
<rect x="472.73" y="209.41" width="9.52" height="9.52" fill="#ffb2b2"/>
<rect x="482.21" y="209.41" width="9.52" height="9.52" fill="#ff7373"/>
<rect x="491.68" y="209.41" width="9.52" height="9.52" fill="#ffa6a6"/>
<rect x="406.41" y="218.88" width="9.52" height="9.52" fill="#ff7373"/>
<rect x="415.89" y="218.88" width="9.52" height="9.52" fill="#ff4d4d"/>
<rect x="425.36" y="218.88" width="9.52" height="9.52" fill="#ff5959"/>
<rect x="434.84" y="218.88" width="9.52" height="9.52" fill="#ff6666"/>
<rect x="444.31" y="218.88" width="9.52" height="9.52" fill="#ffcccc"/>
<rect x="453.78" y="218.88" width="9.52" height="9.52" fill="#ff9999"/>
<rect x="463.26" y="218.88" width="9.52" height="9.52" fill="#ffb2b2"/>
<rect x="472.73" y="218.88" width="9.52" height="9.52" fill="#ffa6a6"/>
<rect x="482.21" y="218.88" width="9.52" height="9.52" fill="#ffe6e6"/>
<rect x="491.68" y="218.88" width="9.52" height="9.52" fill="#ffb2b2"/>
</g>
<path d="M302.20 29.40H501.15" fill="none" stroke="#4a4a4a" stroke-width="0.7"/>
<path d="M501.15 29.40V228.35" fill="none" stroke="#888" stroke-width="0.7"/>
<path d="M302.20 86.24h56.84v-56.84 M501.15 86.24h-56.84v-56.84 M302.20 171.51h56.84v56.84 M501.15 171.51h-56.84v56.84" fill="none" stroke="#1a1a1a" stroke-width="0.6"/>
<path d="M301.80 29.10V228.50H501.45" fill="none" stroke="#000" stroke-width="1.4"/>
<text class="k" text-anchor="end" x="300.20" y="36.24">-10.0</text>
<text class="x" text-anchor="end" transform="translate(309.14 230.15) rotate(-90)">-10.0</text>
<text class="k" text-anchor="end" x="300.20" y="45.71">-9.0</text>
<text class="x" text-anchor="end" transform="translate(318.61 230.15) rotate(-90)">-9.0</text>
<text class="k" text-anchor="end" x="300.20" y="55.19">-8.0</text>
<text class="x" text-anchor="end" transform="translate(328.08 230.15) rotate(-90)">-8.0</text>
<text class="k" text-anchor="end" x="300.20" y="64.66">-7.0</text>
<text class="x" text-anchor="end" transform="translate(337.56 230.15) rotate(-90)">-7.0</text>
<text class="k" text-anchor="end" x="300.20" y="74.13">-6.0</text>
<text class="x" text-anchor="end" transform="translate(347.03 230.15) rotate(-90)">-6.0</text>
<text class="k" text-anchor="end" x="300.20" y="83.61">-5.0</text>
<text class="x" text-anchor="end" transform="translate(356.51 230.15) rotate(-90)">-5.0</text>
<text class="k" text-anchor="end" x="300.20" y="93.08">-4.0</text>
<text class="x" text-anchor="end" transform="translate(365.98 230.15) rotate(-90)">-4.0</text>
<text class="k" text-anchor="end" x="300.20" y="102.56">-3.0</text>
<text class="x" text-anchor="end" transform="translate(375.45 230.15) rotate(-90)">-3.0</text>
<text class="k" text-anchor="end" x="300.20" y="112.03">-2.0</text>
<text class="x" text-anchor="end" transform="translate(384.93 230.15) rotate(-90)">-2.0</text>
<text class="k" text-anchor="end" x="300.20" y="121.50">-1.0</text>
<text class="x" text-anchor="end" transform="translate(394.40 230.15) rotate(-90)">-1.0</text>
<text class="k" text-anchor="end" x="300.20" y="130.98">0.0</text>
<text class="x" text-anchor="end" transform="translate(403.88 230.15) rotate(-90)">0.0</text>
<text class="k" text-anchor="end" x="300.20" y="140.45">1.0</text>
<text class="x" text-anchor="end" transform="translate(413.35 230.15) rotate(-90)">1.0</text>
<text class="k" text-anchor="end" x="300.20" y="149.92">2.0</text>
<text class="x" text-anchor="end" transform="translate(422.82 230.15) rotate(-90)">2.0</text>
<text class="k" text-anchor="end" x="300.20" y="159.40">3.0</text>
<text class="x" text-anchor="end" transform="translate(432.30 230.15) rotate(-90)">3.0</text>
<text class="k" text-anchor="end" x="300.20" y="168.87">4.0</text>
<text class="x" text-anchor="end" transform="translate(441.77 230.15) rotate(-90)">4.0</text>
<text class="k" text-anchor="end" x="300.20" y="178.35">5.0</text>
<text class="x" text-anchor="end" transform="translate(451.25 230.15) rotate(-90)">5.0</text>
<text class="k" text-anchor="end" x="300.20" y="187.82">6.0</text>
<text class="x" text-anchor="end" transform="translate(460.72 230.15) rotate(-90)">6.0</text>
<text class="k" text-anchor="end" x="300.20" y="197.30">7.0</text>
<text class="x" text-anchor="end" transform="translate(470.19 230.15) rotate(-90)">7.0</text>
<text class="k" text-anchor="end" x="300.20" y="206.77">8.0</text>
<text class="x" text-anchor="end" transform="translate(479.67 230.15) rotate(-90)">8.0</text>
<text class="k" text-anchor="end" x="300.20" y="216.24">9.0</text>
<text class="x" text-anchor="end" transform="translate(489.14 230.15) rotate(-90)">9.0</text>
<text class="k" text-anchor="end" x="300.20" y="225.72">10.0</text>
<text class="x" text-anchor="end" transform="translate(498.62 230.15) rotate(-90)">10.0</text>
<text class="n" text-anchor="middle" x="330.62" y="59.43">7.936</text>
<text class="n" text-anchor="middle" x="472.73" y="59.43">25.941</text>
<text class="n" text-anchor="middle" x="330.62" y="201.54">3.656</text>
<text class="n" text-anchor="middle" x="472.73" y="201.54">15.071</text>
<rect x="515.40" y="58.60" width="9.60" height="144.20" fill="url(#cb)" stroke="#888" stroke-width="0.8"/>
<text class="k" x="527.50" y="58.70">22.2</text>
<path d="M525.00 87.44h-2" stroke="#000" stroke-width="0.6"/>
<text class="k" x="527.50" y="87.54">17.8</text>
<path d="M525.00 116.28h-2" stroke="#000" stroke-width="0.6"/>
<text class="k" x="527.50" y="116.38">13.3</text>
<path d="M525.00 145.12h-2" stroke="#000" stroke-width="0.6"/>
<text class="k" x="527.50" y="145.22">8.9</text>
<path d="M525.00 173.96h-2" stroke="#000" stroke-width="0.6"/>
<text class="k" x="527.50" y="174.06">4.4</text>
<text class="k" x="527.50" y="202.90">0</text>
</g>
<g>
<text class="l" font-size="15.5" transform="translate(11.40 263.2) scale(0.78 1)">C</text>
<text class="t" x="76.4" y="260.7" textLength="131.2" lengthAdjust="spacingAndGlyphs">ChIA-PET2 score = 3.798</text>
<rect x="38.40" y="270.10" width="198.95" height="198.95" fill="#ff0000"/>
<g shape-rendering="crispEdges">
<rect x="38.40" y="270.10" width="19.00" height="9.52" fill="#ff2626"/>
<rect x="57.35" y="270.10" width="9.52" height="9.52" fill="#ffb2b2"/>
<rect x="66.82" y="270.10" width="9.52" height="9.52" fill="#ffe6e6"/>
<rect x="76.30" y="270.10" width="9.52" height="9.52" fill="#ffbfbf"/>
<rect x="85.77" y="270.10" width="9.52" height="9.52" fill="#ffffff"/>
<rect x="95.24" y="270.10" width="19.00" height="9.52" fill="#fff2f2"/>
<rect x="114.19" y="270.10" width="9.52" height="9.52" fill="#ffb2b2"/>
<rect x="123.67" y="270.10" width="9.52" height="9.52" fill="#ff2626"/>
<rect x="133.14" y="270.10" width="9.52" height="9.52" fill="#ff8080"/>
<rect x="142.61" y="270.10" width="9.52" height="9.52" fill="#ff9999"/>
<rect x="152.09" y="270.10" width="9.52" height="9.52" fill="#ffa6a6"/>
<rect x="161.56" y="270.10" width="9.52" height="9.52" fill="#ff2626"/>
<rect x="171.04" y="270.10" width="9.52" height="9.52" fill="#ffb2b2"/>
<rect x="180.51" y="270.10" width="19.00" height="9.52" fill="#fff2f2"/>
<rect x="199.46" y="270.10" width="9.52" height="9.52" fill="#ffffff"/>
<rect x="208.93" y="270.10" width="19.00" height="9.52" fill="#fff2f2"/>
<rect x="227.88" y="270.10" width="9.52" height="9.52" fill="#ffd9d9"/>
<rect x="38.40" y="279.57" width="9.52" height="9.52" fill="#ff8080"/>
<rect x="47.87" y="279.57" width="9.52" height="9.52" fill="#fff2f2"/>
<rect x="57.35" y="279.57" width="9.52" height="9.52" fill="#ffb2b2"/>
<rect x="66.82" y="279.57" width="9.52" height="9.52" fill="#ffffff"/>
<rect x="76.30" y="279.57" width="9.52" height="9.52" fill="#ffd9d9"/>
<rect x="85.77" y="279.57" width="9.52" height="9.52" fill="#ffb2b2"/>
<rect x="95.24" y="279.57" width="19.00" height="9.52" fill="#ffa6a6"/>
<rect x="114.19" y="279.57" width="9.52" height="9.52" fill="#ff1919"/>
<rect x="123.67" y="279.57" width="9.52" height="9.52" fill="#ffb2b2"/>
<rect x="133.14" y="279.57" width="9.52" height="9.52" fill="#ff6666"/>
<rect x="142.61" y="279.57" width="9.52" height="9.52" fill="#ff8c8c"/>
<rect x="152.09" y="279.57" width="9.52" height="9.52" fill="#ff6666"/>
<rect x="161.56" y="279.57" width="9.52" height="9.52" fill="#fff2f2"/>
<rect x="171.04" y="279.57" width="19.00" height="9.52" fill="#ffd9d9"/>
<rect x="189.98" y="279.57" width="9.52" height="9.52" fill="#ff9999"/>
<rect x="199.46" y="279.57" width="9.52" height="9.52" fill="#ffe6e6"/>
<rect x="208.93" y="279.57" width="9.52" height="9.52" fill="#ffd9d9"/>
<rect x="218.41" y="279.57" width="9.52" height="9.52" fill="#fff2f2"/>
<rect x="227.88" y="279.57" width="9.52" height="9.52" fill="#ffbfbf"/>
<rect x="38.40" y="289.05" width="9.52" height="9.52" fill="#ff7373"/>
<rect x="47.87" y="289.05" width="9.52" height="9.52" fill="#fff2f2"/>
<rect x="57.35" y="289.05" width="9.52" height="9.52" fill="#ff2626"/>
<rect x="66.82" y="289.05" width="9.52" height="9.52" fill="#ffa6a6"/>
<rect x="76.30" y="289.05" width="9.52" height="9.52" fill="#ffe6e6"/>
<rect x="95.24" y="289.05" width="9.52" height="9.52" fill="#ffb2b2"/>
<rect x="104.72" y="289.05" width="9.52" height="9.52" fill="#ffffff"/>
<rect x="114.19" y="289.05" width="19.00" height="9.52" fill="#ff8080"/>
<rect x="133.14" y="289.05" width="9.52" height="9.52" fill="#ff6666"/>
<rect x="142.61" y="289.05" width="9.52" height="9.52" fill="#ff9999"/>
<rect x="152.09" y="289.05" width="9.52" height="9.52" fill="#fff2f2"/>
<rect x="161.56" y="289.05" width="9.52" height="9.52" fill="#ffd9d9"/>
<rect x="171.04" y="289.05" width="9.52" height="9.52" fill="#ffcccc"/>
<rect x="180.51" y="289.05" width="9.52" height="9.52" fill="#ffbfbf"/>
<rect x="189.98" y="289.05" width="9.52" height="9.52" fill="#ffe6e6"/>
<rect x="199.46" y="289.05" width="9.52" height="9.52" fill="#ffcccc"/>
<rect x="208.93" y="289.05" width="9.52" height="9.52" fill="#ff4d4d"/>
<rect x="218.41" y="289.05" width="9.52" height="9.52" fill="#ffd9d9"/>
<rect x="227.88" y="289.05" width="9.52" height="9.52" fill="#ffcccc"/>
<rect x="38.40" y="298.52" width="9.52" height="9.52" fill="#ffb2b2"/>
<rect x="47.87" y="298.52" width="9.52" height="9.52" fill="#ffd9d9"/>
<rect x="57.35" y="298.52" width="9.52" height="9.52" fill="#ff9999"/>
<rect x="66.82" y="298.52" width="9.52" height="9.52" fill="#ffb2b2"/>
<rect x="76.30" y="298.52" width="9.52" height="9.52" fill="#ffbfbf"/>
<rect x="95.24" y="298.52" width="9.52" height="9.52" fill="#ffe6e6"/>
<rect x="104.72" y="298.52" width="19.00" height="9.52" fill="#ff4040"/>
<rect x="123.67" y="298.52" width="9.52" height="9.52" fill="#ff7373"/>
<rect x="133.14" y="298.52" width="9.52" height="9.52" fill="#ff0d0d"/>
<rect x="142.61" y="298.52" width="9.52" height="9.52" fill="#ff2626"/>
<rect x="152.09" y="298.52" width="9.52" height="9.52" fill="#ffb2b2"/>
<rect x="161.56" y="298.52" width="9.52" height="9.52" fill="#ffd9d9"/>
<rect x="171.04" y="298.52" width="9.52" height="9.52" fill="#ffbfbf"/>
<rect x="180.51" y="298.52" width="9.52" height="9.52" fill="#fff2f2"/>
<rect x="189.98" y="298.52" width="9.52" height="9.52" fill="#ffd9d9"/>
<rect x="199.46" y="298.52" width="9.52" height="9.52" fill="#ffbfbf"/>
<rect x="208.93" y="298.52" width="9.52" height="9.52" fill="#ffb2b2"/>
<rect x="218.41" y="298.52" width="9.52" height="9.52" fill="#ffbfbf"/>
<rect x="227.88" y="298.52" width="9.52" height="9.52" fill="#fff2f2"/>
<rect x="38.40" y="308.00" width="9.52" height="9.52" fill="#ffd9d9"/>
<rect x="47.87" y="308.00" width="9.52" height="9.52" fill="#ffbfbf"/>
<rect x="57.35" y="308.00" width="9.52" height="9.52" fill="#ffb2b2"/>
<rect x="66.82" y="308.00" width="9.52" height="9.52" fill="#ffe6e6"/>
<rect x="76.30" y="308.00" width="9.52" height="9.52" fill="#ff4040"/>
<rect x="85.77" y="308.00" width="9.52" height="9.52" fill="#ff8080"/>
<rect x="104.72" y="308.00" width="9.52" height="9.52" fill="#ff9999"/>
<rect x="114.19" y="308.00" width="9.52" height="9.52" fill="#ffb2b2"/>
<rect x="123.67" y="308.00" width="9.52" height="9.52" fill="#ff7373"/>
<rect x="142.61" y="308.00" width="9.52" height="9.52" fill="#ff6666"/>
<rect x="152.09" y="308.00" width="9.52" height="9.52" fill="#ffbfbf"/>
<rect x="161.56" y="308.00" width="19.00" height="9.52" fill="#ff9999"/>
<rect x="180.51" y="308.00" width="9.52" height="9.52" fill="#ffd9d9"/>
<rect x="189.98" y="308.00" width="9.52" height="9.52" fill="#ffa6a6"/>
<rect x="199.46" y="308.00" width="9.52" height="9.52" fill="#ffbfbf"/>
<rect x="208.93" y="308.00" width="9.52" height="9.52" fill="#ff5959"/>
<rect x="218.41" y="308.00" width="9.52" height="9.52" fill="#ffe6e6"/>
<rect x="227.88" y="308.00" width="9.52" height="9.52" fill="#ffcccc"/>
<rect x="38.40" y="317.47" width="9.52" height="9.52" fill="#ff1919"/>
<rect x="47.87" y="317.47" width="9.52" height="9.52" fill="#ffe6e6"/>
<rect x="66.82" y="317.47" width="9.52" height="9.52" fill="#ffd9d9"/>
<rect x="76.30" y="317.47" width="9.52" height="9.52" fill="#ff4040"/>
<rect x="95.24" y="317.47" width="9.52" height="9.52" fill="#ff9999"/>
<rect x="104.72" y="317.47" width="19.00" height="9.52" fill="#ff3333"/>
<rect x="123.67" y="317.47" width="9.52" height="9.52" fill="#ff6666"/>
<rect x="152.09" y="317.47" width="9.52" height="9.52" fill="#ffb2b2"/>
<rect x="161.56" y="317.47" width="9.52" height="9.52" fill="#ffd9d9"/>
<rect x="171.04" y="317.47" width="9.52" height="9.52" fill="#ffb2b2"/>
<rect x="180.51" y="317.47" width="9.52" height="9.52" fill="#ff8080"/>
<rect x="189.98" y="317.47" width="9.52" height="9.52" fill="#ffd9d9"/>
<rect x="199.46" y="317.47" width="9.52" height="9.52" fill="#fff2f2"/>
<rect x="208.93" y="317.47" width="9.52" height="9.52" fill="#ffd9d9"/>
<rect x="218.41" y="317.47" width="9.52" height="9.52" fill="#ff3333"/>
<rect x="227.88" y="317.47" width="9.52" height="9.52" fill="#ffd9d9"/>
<rect x="47.87" y="326.94" width="9.52" height="9.52" fill="#ff7373"/>
<rect x="57.35" y="326.94" width="9.52" height="9.52" fill="#ffbfbf"/>
<rect x="66.82" y="326.94" width="9.52" height="9.52" fill="#ffd9d9"/>
<rect x="76.30" y="326.94" width="19.00" height="9.52" fill="#ff8c8c"/>
<rect x="95.24" y="326.94" width="9.52" height="9.52" fill="#ffcccc"/>
<rect x="104.72" y="326.94" width="9.52" height="9.52" fill="#ff4d4d"/>
<rect x="142.61" y="326.94" width="9.52" height="9.52" fill="#ff6666"/>
<rect x="152.09" y="326.94" width="9.52" height="9.52" fill="#ffcccc"/>
<rect x="161.56" y="326.94" width="9.52" height="9.52" fill="#ffd9d9"/>
<rect x="171.04" y="326.94" width="9.52" height="9.52" fill="#ff8c8c"/>
<rect x="180.51" y="326.94" width="9.52" height="9.52" fill="#ffe6e6"/>
<rect x="189.98" y="326.94" width="9.52" height="9.52" fill="#ff8c8c"/>
<rect x="199.46" y="326.94" width="9.52" height="9.52" fill="#ff4d4d"/>
<rect x="208.93" y="326.94" width="9.52" height="9.52" fill="#ffb2b2"/>
<rect x="218.41" y="326.94" width="9.52" height="9.52" fill="#ff8c8c"/>
<rect x="227.88" y="326.94" width="9.52" height="9.52" fill="#ffcccc"/>
<rect x="47.87" y="336.42" width="9.52" height="9.52" fill="#ff5959"/>
<rect x="76.30" y="336.42" width="9.52" height="9.52" fill="#ffe6e6"/>
<rect x="85.77" y="336.42" width="9.52" height="9.52" fill="#ff5959"/>
<rect x="95.24" y="336.42" width="9.52" height="9.52" fill="#ff4040"/>
<rect x="114.19" y="336.42" width="9.52" height="9.52" fill="#ff6666"/>
<rect x="161.56" y="336.42" width="9.52" height="9.52" fill="#ffcccc"/>
<rect x="171.04" y="336.42" width="9.52" height="9.52" fill="#ff8080"/>
<rect x="180.51" y="336.42" width="19.00" height="9.52" fill="#ffd9d9"/>
<rect x="199.46" y="336.42" width="9.52" height="9.52" fill="#ffa6a6"/>
<rect x="208.93" y="336.42" width="9.52" height="9.52" fill="#ff9999"/>
<rect x="218.41" y="336.42" width="9.52" height="9.52" fill="#ffd9d9"/>
<rect x="227.88" y="336.42" width="9.52" height="9.52" fill="#fff2f2"/>
<rect x="47.87" y="345.89" width="9.52" height="9.52" fill="#ff3333"/>
<rect x="66.82" y="345.89" width="9.52" height="9.52" fill="#ff4d4d"/>
<rect x="76.30" y="345.89" width="9.52" height="9.52" fill="#ff7373"/>
<rect x="85.77" y="345.89" width="9.52" height="9.52" fill="#ff3333"/>
<rect x="152.09" y="345.89" width="9.52" height="9.52" fill="#ffe6e6"/>
<rect x="161.56" y="345.89" width="9.52" height="9.52" fill="#ff0d0d"/>
<rect x="171.04" y="345.89" width="9.52" height="9.52" fill="#ff1919"/>
<rect x="180.51" y="345.89" width="19.00" height="9.52" fill="#ffb2b2"/>
<rect x="199.46" y="345.89" width="9.52" height="9.52" fill="#ff9999"/>
<rect x="218.41" y="345.89" width="9.52" height="9.52" fill="#fff2f2"/>
<rect x="227.88" y="345.89" width="9.52" height="9.52" fill="#ffcccc"/>
<rect x="66.82" y="355.37" width="9.52" height="9.52" fill="#ff3333"/>
<rect x="152.09" y="355.37" width="9.52" height="9.52" fill="#ff2626"/>
<rect x="161.56" y="355.37" width="19.00" height="9.52" fill="#ff7373"/>
<rect x="180.51" y="355.37" width="9.52" height="9.52" fill="#ff8c8c"/>
<rect x="189.98" y="355.37" width="9.52" height="9.52" fill="#fff2f2"/>
<rect x="199.46" y="355.37" width="9.52" height="9.52" fill="#ff8c8c"/>
<rect x="208.93" y="355.37" width="9.52" height="9.52" fill="#ffa6a6"/>
<rect x="218.41" y="355.37" width="9.52" height="9.52" fill="#ff3333"/>
<rect x="227.88" y="355.37" width="9.52" height="9.52" fill="#ff9999"/>
<rect x="171.04" y="364.84" width="9.52" height="9.52" fill="#ff3333"/>
<rect x="180.51" y="364.84" width="19.00" height="9.52" fill="#ff8080"/>
<rect x="199.46" y="364.84" width="19.00" height="9.52" fill="#ff9999"/>
<rect x="218.41" y="364.84" width="9.52" height="9.52" fill="#ff3333"/>
<rect x="227.88" y="364.84" width="9.52" height="9.52" fill="#ff8c8c"/>
<rect x="66.82" y="374.31" width="9.52" height="9.52" fill="#ff0d0d"/>
<rect x="142.61" y="374.31" width="9.52" height="9.52" fill="#ff4040"/>
<rect x="161.56" y="374.31" width="9.52" height="9.52" fill="#ff2626"/>
<rect x="171.04" y="374.31" width="9.52" height="9.52" fill="#ff3333"/>
<rect x="180.51" y="374.31" width="9.52" height="9.52" fill="#ff7373"/>
<rect x="199.46" y="374.31" width="9.52" height="9.52" fill="#ff9999"/>
<rect x="208.93" y="374.31" width="19.00" height="9.52" fill="#ffa6a6"/>
<rect x="227.88" y="374.31" width="9.52" height="9.52" fill="#ffb2b2"/>
<rect x="66.82" y="383.79" width="9.52" height="9.52" fill="#ff1919"/>
<rect x="152.09" y="383.79" width="9.52" height="9.52" fill="#ff5959"/>
<rect x="161.56" y="383.79" width="9.52" height="9.52" fill="#ff1919"/>
<rect x="171.04" y="383.79" width="19.00" height="9.52" fill="#ffbfbf"/>
<rect x="189.98" y="383.79" width="9.52" height="9.52" fill="#ffcccc"/>
<rect x="208.93" y="383.79" width="9.52" height="9.52" fill="#ff8080"/>
<rect x="218.41" y="383.79" width="9.52" height="9.52" fill="#ff5959"/>
<rect x="227.88" y="383.79" width="9.52" height="9.52" fill="#ff1919"/>
<rect x="66.82" y="393.26" width="9.52" height="9.52" fill="#ff4040"/>
<rect x="95.24" y="393.26" width="9.52" height="9.52" fill="#ff2626"/>
<rect x="152.09" y="393.26" width="9.52" height="9.52" fill="#ff4d4d"/>
<rect x="171.04" y="393.26" width="9.52" height="9.52" fill="#ff4040"/>
<rect x="180.51" y="393.26" width="9.52" height="9.52" fill="#ff8080"/>
<rect x="189.98" y="393.26" width="9.52" height="9.52" fill="#ffb2b2"/>
<rect x="199.46" y="393.26" width="9.52" height="9.52" fill="#ffd9d9"/>
<rect x="218.41" y="393.26" width="9.52" height="9.52" fill="#ff9999"/>
<rect x="227.88" y="393.26" width="9.52" height="9.52" fill="#ffd9d9"/>
<rect x="66.82" y="402.74" width="9.52" height="9.52" fill="#ff1919"/>
<rect x="76.30" y="402.74" width="9.52" height="9.52" fill="#ff4040"/>
<rect x="152.09" y="402.74" width="9.52" height="9.52" fill="#ff0d0d"/>
<rect x="171.04" y="402.74" width="9.52" height="9.52" fill="#ffb2b2"/>
<rect x="189.98" y="402.74" width="9.52" height="9.52" fill="#ffcccc"/>
<rect x="199.46" y="402.74" width="9.52" height="9.52" fill="#ff9999"/>
<rect x="208.93" y="402.74" width="9.52" height="9.52" fill="#ffcccc"/>
<rect x="218.41" y="402.74" width="9.52" height="9.52" fill="#ff7373"/>
<rect x="227.88" y="402.74" width="9.52" height="9.52" fill="#ffd9d9"/>
<rect x="66.82" y="412.21" width="9.52" height="9.52" fill="#ffa6a6"/>
<rect x="76.30" y="412.21" width="9.52" height="9.52" fill="#ff1919"/>
<rect x="104.72" y="412.21" width="9.52" height="9.52" fill="#ff1212"/>
<rect x="142.61" y="412.21" width="9.52" height="9.52" fill="#ff2626"/>
<rect x="152.09" y="412.21" width="9.52" height="9.52" fill="#fff2f2"/>
<rect x="161.56" y="412.21" width="9.52" height="9.52" fill="#ff4040"/>
<rect x="171.04" y="412.21" width="9.52" height="9.52" fill="#ff5959"/>
<rect x="180.51" y="412.21" width="9.52" height="9.52" fill="#ff8080"/>
<rect x="189.98" y="412.21" width="9.52" height="9.52" fill="#ffd9d9"/>
<rect x="208.93" y="412.21" width="9.52" height="9.52" fill="#fff2f2"/>
<rect x="218.41" y="412.21" width="9.52" height="9.52" fill="#ff8c8c"/>
<rect x="227.88" y="412.21" width="9.52" height="9.52" fill="#ffe6e6"/>
<rect x="38.40" y="421.68" width="9.52" height="9.52" fill="#ff0d0d"/>
<rect x="66.82" y="421.68" width="9.52" height="9.52" fill="#ff1919"/>
<rect x="76.30" y="421.68" width="9.52" height="9.52" fill="#ff4040"/>
<rect x="95.24" y="421.68" width="9.52" height="9.52" fill="#ff4040"/>
<rect x="142.61" y="421.68" width="9.52" height="9.52" fill="#ff2626"/>
<rect x="152.09" y="421.68" width="9.52" height="9.52" fill="#ffa6a6"/>
<rect x="161.56" y="421.68" width="9.52" height="9.52" fill="#ffb2b2"/>
<rect x="171.04" y="421.68" width="9.52" height="9.52" fill="#ff8080"/>
<rect x="180.51" y="421.68" width="9.52" height="9.52" fill="#ff3333"/>
<rect x="189.98" y="421.68" width="9.52" height="9.52" fill="#ffb2b2"/>
<rect x="199.46" y="421.68" width="9.52" height="9.52" fill="#ffcccc"/>
<rect x="208.93" y="421.68" width="9.52" height="9.52" fill="#ff4d4d"/>
<rect x="218.41" y="421.68" width="19.00" height="9.52" fill="#ffa6a6"/>
<rect x="38.40" y="431.16" width="9.52" height="9.52" fill="#ff1919"/>
<rect x="66.82" y="431.16" width="9.52" height="9.52" fill="#ff4040"/>
<rect x="142.61" y="431.16" width="9.52" height="9.52" fill="#ff2626"/>
<rect x="161.56" y="431.16" width="19.00" height="9.52" fill="#ff5959"/>
<rect x="180.51" y="431.16" width="9.52" height="9.52" fill="#ff8080"/>
<rect x="189.98" y="431.16" width="9.52" height="9.52" fill="#ffcccc"/>
<rect x="199.46" y="431.16" width="9.52" height="9.52" fill="#fff2f2"/>
<rect x="208.93" y="431.16" width="9.52" height="9.52" fill="#ffffff"/>
<rect x="218.41" y="431.16" width="9.52" height="9.52" fill="#ffb2b2"/>
<rect x="227.88" y="431.16" width="9.52" height="9.52" fill="#ffcccc"/>
<rect x="66.82" y="440.63" width="9.52" height="9.52" fill="#ff1919"/>
<rect x="104.72" y="440.63" width="9.52" height="9.52" fill="#ff0a0a"/>
<rect x="142.61" y="440.63" width="9.52" height="9.52" fill="#ff2626"/>
<rect x="152.09" y="440.63" width="9.52" height="9.52" fill="#ff8080"/>
<rect x="161.56" y="440.63" width="9.52" height="9.52" fill="#ff4d4d"/>
<rect x="171.04" y="440.63" width="9.52" height="9.52" fill="#ff4040"/>
<rect x="180.51" y="440.63" width="9.52" height="9.52" fill="#ffa6a6"/>
<rect x="189.98" y="440.63" width="9.52" height="9.52" fill="#ff4040"/>
<rect x="199.46" y="440.63" width="9.52" height="9.52" fill="#ffcccc"/>
<rect x="208.93" y="440.63" width="9.52" height="9.52" fill="#ffe6e6"/>
<rect x="218.41" y="440.63" width="19.00" height="9.52" fill="#ffd9d9"/>
<rect x="161.56" y="450.11" width="9.52" height="9.52" fill="#ffcccc"/>
<rect x="171.04" y="450.11" width="9.52" height="9.52" fill="#ffb2b2"/>
<rect x="189.98" y="450.11" width="9.52" height="9.52" fill="#ffcccc"/>
<rect x="199.46" y="450.11" width="9.52" height="9.52" fill="#ff3333"/>
<rect x="208.93" y="450.11" width="9.52" height="9.52" fill="#ffcccc"/>
<rect x="218.41" y="450.11" width="9.52" height="9.52" fill="#ffbfbf"/>
<rect x="227.88" y="450.11" width="9.52" height="9.52" fill="#ff4040"/>
<rect x="66.82" y="459.58" width="9.52" height="9.52" fill="#ff4040"/>
<rect x="142.61" y="459.58" width="9.52" height="9.52" fill="#ff8c8c"/>
<rect x="152.09" y="459.58" width="9.52" height="9.52" fill="#ff8080"/>
<rect x="161.56" y="459.58" width="9.52" height="9.52" fill="#ff5959"/>
<rect x="171.04" y="459.58" width="9.52" height="9.52" fill="#ffbfbf"/>
<rect x="180.51" y="459.58" width="9.52" height="9.52" fill="#ff6666"/>
<rect x="189.98" y="459.58" width="9.52" height="9.52" fill="#ffffff"/>
<rect x="199.46" y="459.58" width="9.52" height="9.52" fill="#ffb2b2"/>
<rect x="208.93" y="459.58" width="9.52" height="9.52" fill="#ffe6e6"/>
<rect x="218.41" y="459.58" width="9.52" height="9.52" fill="#ffd9d9"/>
<rect x="227.88" y="459.58" width="9.52" height="9.52" fill="#ffbfbf"/>
</g>
<path d="M38.40 270.10H237.35" fill="none" stroke="#4a4a4a" stroke-width="0.7"/>
<path d="M237.35 270.10V469.05" fill="none" stroke="#888" stroke-width="0.7"/>
<path d="M38.40 326.94h56.84v-56.84 M237.35 326.94h-56.84v-56.84 M38.40 412.21h56.84v56.84 M237.35 412.21h-56.84v56.84" fill="none" stroke="#1a1a1a" stroke-width="0.6"/>
<path d="M38.00 269.80V469.20H237.65" fill="none" stroke="#000" stroke-width="1.4"/>
<text class="k" text-anchor="end" x="36.40" y="276.94">-10.0</text>
<text class="x" text-anchor="end" transform="translate(45.34 470.85) rotate(-90)">-10.0</text>
<text class="k" text-anchor="end" x="36.40" y="286.41">-9.0</text>
<text class="x" text-anchor="end" transform="translate(54.81 470.85) rotate(-90)">-9.0</text>
<text class="k" text-anchor="end" x="36.40" y="295.89">-8.0</text>
<text class="x" text-anchor="end" transform="translate(64.28 470.85) rotate(-90)">-8.0</text>
<text class="k" text-anchor="end" x="36.40" y="305.36">-7.0</text>
<text class="x" text-anchor="end" transform="translate(73.76 470.85) rotate(-90)">-7.0</text>
<text class="k" text-anchor="end" x="36.40" y="314.83">-6.0</text>
<text class="x" text-anchor="end" transform="translate(83.23 470.85) rotate(-90)">-6.0</text>
<text class="k" text-anchor="end" x="36.40" y="324.31">-5.0</text>
<text class="x" text-anchor="end" transform="translate(92.71 470.85) rotate(-90)">-5.0</text>
<text class="k" text-anchor="end" x="36.40" y="333.78">-4.0</text>
<text class="x" text-anchor="end" transform="translate(102.18 470.85) rotate(-90)">-4.0</text>
<text class="k" text-anchor="end" x="36.40" y="343.26">-3.0</text>
<text class="x" text-anchor="end" transform="translate(111.66 470.85) rotate(-90)">-3.0</text>
<text class="k" text-anchor="end" x="36.40" y="352.73">-2.0</text>
<text class="x" text-anchor="end" transform="translate(121.13 470.85) rotate(-90)">-2.0</text>
<text class="k" text-anchor="end" x="36.40" y="362.20">-1.0</text>
<text class="x" text-anchor="end" transform="translate(130.60 470.85) rotate(-90)">-1.0</text>
<text class="k" text-anchor="end" x="36.40" y="371.68">0.0</text>
<text class="x" text-anchor="end" transform="translate(140.08 470.85) rotate(-90)">0.0</text>
<text class="k" text-anchor="end" x="36.40" y="381.15">1.0</text>
<text class="x" text-anchor="end" transform="translate(149.55 470.85) rotate(-90)">1.0</text>
<text class="k" text-anchor="end" x="36.40" y="390.63">2.0</text>
<text class="x" text-anchor="end" transform="translate(159.02 470.85) rotate(-90)">2.0</text>
<text class="k" text-anchor="end" x="36.40" y="400.10">3.0</text>
<text class="x" text-anchor="end" transform="translate(168.50 470.85) rotate(-90)">3.0</text>
<text class="k" text-anchor="end" x="36.40" y="409.57">4.0</text>
<text class="x" text-anchor="end" transform="translate(177.97 470.85) rotate(-90)">4.0</text>
<text class="k" text-anchor="end" x="36.40" y="419.05">5.0</text>
<text class="x" text-anchor="end" transform="translate(187.45 470.85) rotate(-90)">5.0</text>
<text class="k" text-anchor="end" x="36.40" y="428.52">6.0</text>
<text class="x" text-anchor="end" transform="translate(196.92 470.85) rotate(-90)">6.0</text>
<text class="k" text-anchor="end" x="36.40" y="438.00">7.0</text>
<text class="x" text-anchor="end" transform="translate(206.40 470.85) rotate(-90)">7.0</text>
<text class="k" text-anchor="end" x="36.40" y="447.47">8.0</text>
<text class="x" text-anchor="end" transform="translate(215.87 470.85) rotate(-90)">8.0</text>
<text class="k" text-anchor="end" x="36.40" y="456.94">9.0</text>
<text class="x" text-anchor="end" transform="translate(225.34 470.85) rotate(-90)">9.0</text>
<text class="k" text-anchor="end" x="36.40" y="466.42">10.0</text>
<text class="x" text-anchor="end" transform="translate(234.82 470.85) rotate(-90)">10.0</text>
<text class="n" text-anchor="middle" x="66.82" y="300.13">12.474</text>
<text class="n" text-anchor="middle" x="208.93" y="300.13">27.798</text>
<text class="n" text-anchor="middle" x="66.82" y="442.24">3.798</text>
<text class="n" text-anchor="middle" x="208.93" y="442.24">16.882</text>
<rect x="251.60" y="299.30" width="9.60" height="144.20" fill="url(#cb)" stroke="#888" stroke-width="0.8"/>
<text class="k" x="263.70" y="299.40">4.8</text>
<path d="M261.20 328.14h-2" stroke="#000" stroke-width="0.6"/>
<text class="k" x="263.70" y="328.24">3.9</text>
<path d="M261.20 356.98h-2" stroke="#000" stroke-width="0.6"/>
<text class="k" x="263.70" y="357.08">2.9</text>
<path d="M261.20 385.82h-2" stroke="#000" stroke-width="0.6"/>
<text class="k" x="263.70" y="385.92">1.9</text>
<path d="M261.20 414.66h-2" stroke="#000" stroke-width="0.6"/>
<text class="k" x="263.70" y="414.76">1</text>
<text class="k" x="263.70" y="443.60">0</text>
</g>
<g>
<text class="l" font-size="15.8" transform="translate(281.40 263.3) scale(0.80 1)">D</text>
<text class="t" x="347.7" y="260.7" textLength="112.8" lengthAdjust="spacingAndGlyphs">ChiaSig score = 8.001</text>
<rect x="302.20" y="269.90" width="198.95" height="198.95" fill="#ff0000"/>
<g shape-rendering="crispEdges">
<rect x="311.67" y="269.90" width="9.52" height="9.52" fill="#ffffff"/>
<rect x="340.10" y="269.90" width="9.52" height="9.52" fill="#ffffff"/>
<rect x="359.04" y="269.90" width="9.52" height="9.52" fill="#ffcccc"/>
<rect x="368.52" y="269.90" width="9.52" height="9.52" fill="#ffffff"/>
<rect x="387.47" y="269.90" width="9.52" height="9.52" fill="#ff3333"/>
<rect x="396.94" y="269.90" width="9.52" height="9.52" fill="#ff9999"/>
<rect x="406.41" y="269.90" width="9.52" height="9.52" fill="#ff3333"/>
<rect x="415.89" y="269.90" width="9.52" height="9.52" fill="#ff6666"/>
<rect x="434.84" y="269.90" width="9.52" height="9.52" fill="#ffe6e6"/>
<rect x="444.31" y="269.90" width="9.52" height="9.52" fill="#ffffff"/>
<rect x="453.78" y="269.90" width="9.52" height="9.52" fill="#fff2f2"/>
<rect x="463.26" y="269.90" width="28.47" height="9.52" fill="#ffd9d9"/>
<rect x="491.68" y="269.90" width="9.52" height="9.52" fill="#ffe6e6"/>
<rect x="302.20" y="279.37" width="28.47" height="9.52" fill="#ffffff"/>
<rect x="330.62" y="279.37" width="9.52" height="9.52" fill="#ff8080"/>
<rect x="340.10" y="279.37" width="9.52" height="9.52" fill="#ffffff"/>
<rect x="349.57" y="279.37" width="9.52" height="9.52" fill="#ffd9d9"/>
<rect x="359.04" y="279.37" width="9.52" height="9.52" fill="#ff8080"/>
<rect x="387.47" y="279.37" width="9.52" height="9.52" fill="#ff6666"/>
<rect x="425.36" y="279.37" width="9.52" height="9.52" fill="#ffbfbf"/>
<rect x="434.84" y="279.37" width="9.52" height="9.52" fill="#ffe6e6"/>
<rect x="453.78" y="279.37" width="9.52" height="9.52" fill="#ffe6e6"/>
<rect x="463.26" y="279.37" width="9.52" height="9.52" fill="#ffffff"/>
<rect x="472.73" y="279.37" width="9.52" height="9.52" fill="#ffcccc"/>
<rect x="482.21" y="279.37" width="19.00" height="9.52" fill="#ffffff"/>
<rect x="311.67" y="288.85" width="9.52" height="9.52" fill="#ffffff"/>
<rect x="330.62" y="288.85" width="9.52" height="9.52" fill="#ff8080"/>
<rect x="340.10" y="288.85" width="9.52" height="9.52" fill="#ffffff"/>
<rect x="359.04" y="288.85" width="9.52" height="9.52" fill="#ff9999"/>
<rect x="368.52" y="288.85" width="9.52" height="9.52" fill="#ffffff"/>
<rect x="377.99" y="288.85" width="9.52" height="9.52" fill="#ffb2b2"/>
<rect x="406.41" y="288.85" width="9.52" height="9.52" fill="#ff6666"/>
<rect x="425.36" y="288.85" width="9.52" height="9.52" fill="#ffbfbf"/>
<rect x="434.84" y="288.85" width="19.00" height="9.52" fill="#ffffff"/>
<rect x="453.78" y="288.85" width="9.52" height="9.52" fill="#ffb2b2"/>
<rect x="463.26" y="288.85" width="9.52" height="9.52" fill="#ffd9d9"/>
<rect x="482.21" y="288.85" width="19.00" height="9.52" fill="#ffffff"/>
<rect x="302.20" y="298.32" width="9.52" height="9.52" fill="#ffffff"/>
<rect x="311.67" y="298.32" width="9.52" height="9.52" fill="#fff2f2"/>
<rect x="321.15" y="298.32" width="37.95" height="9.52" fill="#ffffff"/>
<rect x="359.04" y="298.32" width="9.52" height="9.52" fill="#ffd9d9"/>
<rect x="406.41" y="298.32" width="9.52" height="9.52" fill="#ff4d4d"/>
<rect x="415.89" y="298.32" width="9.52" height="9.52" fill="#ffffff"/>
<rect x="425.36" y="298.32" width="9.52" height="9.52" fill="#ffcccc"/>
<rect x="434.84" y="298.32" width="9.52" height="9.52" fill="#ff8c8c"/>
<rect x="444.31" y="298.32" width="19.00" height="9.52" fill="#ffffff"/>
<rect x="463.26" y="298.32" width="28.47" height="9.52" fill="#ffd9d9"/>
<rect x="491.68" y="298.32" width="9.52" height="9.52" fill="#ffe0e0"/>
<rect x="302.20" y="307.80" width="37.95" height="9.52" fill="#ffffff"/>
<rect x="340.10" y="307.80" width="9.52" height="9.52" fill="#ffcccc"/>
<rect x="349.57" y="307.80" width="9.52" height="9.52" fill="#ffb2b2"/>
<rect x="368.52" y="307.80" width="19.00" height="9.52" fill="#ff6666"/>
<rect x="406.41" y="307.80" width="9.52" height="9.52" fill="#ff6666"/>
<rect x="415.89" y="307.80" width="9.52" height="9.52" fill="#ffffff"/>
<rect x="425.36" y="307.80" width="9.52" height="9.52" fill="#ffd9d9"/>
<rect x="434.84" y="307.80" width="9.52" height="9.52" fill="#ff7373"/>
<rect x="444.31" y="307.80" width="9.52" height="9.52" fill="#ffffff"/>
<rect x="453.78" y="307.80" width="9.52" height="9.52" fill="#ffe6e6"/>
<rect x="463.26" y="307.80" width="9.52" height="9.52" fill="#ff8c8c"/>
<rect x="482.21" y="307.80" width="19.00" height="9.52" fill="#ffffff"/>
<rect x="302.20" y="317.27" width="19.00" height="9.52" fill="#ffffff"/>
<rect x="330.62" y="317.27" width="19.00" height="9.52" fill="#ffffff"/>
<rect x="349.57" y="317.27" width="9.52" height="9.52" fill="#ffd9d9"/>
<rect x="359.04" y="317.27" width="9.52" height="9.52" fill="#ff9999"/>
<rect x="377.99" y="317.27" width="19.00" height="9.52" fill="#ff8080"/>
<rect x="406.41" y="317.27" width="9.52" height="9.52" fill="#ff6666"/>
<rect x="415.89" y="317.27" width="9.52" height="9.52" fill="#ff9999"/>
<rect x="425.36" y="317.27" width="9.52" height="9.52" fill="#ffcccc"/>
<rect x="434.84" y="317.27" width="9.52" height="9.52" fill="#ff4040"/>
<rect x="444.31" y="317.27" width="19.00" height="9.52" fill="#ffffff"/>
<rect x="463.26" y="317.27" width="9.52" height="9.52" fill="#ffb2b2"/>
<rect x="472.73" y="317.27" width="9.52" height="9.52" fill="#ffbfbf"/>
<rect x="482.21" y="317.27" width="9.52" height="9.52" fill="#ffcccc"/>
<rect x="491.68" y="317.27" width="9.52" height="9.52" fill="#ffd9d9"/>
<rect x="311.67" y="326.74" width="9.52" height="9.52" fill="#ffb2b2"/>
<rect x="321.15" y="326.74" width="9.52" height="9.52" fill="#ffffff"/>
<rect x="330.62" y="326.74" width="9.52" height="9.52" fill="#ffe6e6"/>
<rect x="340.10" y="326.74" width="9.52" height="9.52" fill="#ffffff"/>
<rect x="359.04" y="326.74" width="9.52" height="9.52" fill="#ff0d0d"/>
<rect x="406.41" y="326.74" width="9.52" height="9.52" fill="#ff6666"/>
<rect x="415.89" y="326.74" width="19.00" height="9.52" fill="#ffe6e6"/>
<rect x="434.84" y="326.74" width="9.52" height="9.52" fill="#ff4d4d"/>
<rect x="444.31" y="326.74" width="9.52" height="9.52" fill="#ffffff"/>
<rect x="453.78" y="326.74" width="9.52" height="9.52" fill="#ffe6e6"/>
<rect x="463.26" y="326.74" width="19.00" height="9.52" fill="#ff4d4d"/>
<rect x="491.68" y="326.74" width="9.52" height="9.52" fill="#ffbfbf"/>
<rect x="311.67" y="336.22" width="9.52" height="9.52" fill="#ff8080"/>
<rect x="321.15" y="336.22" width="9.52" height="9.52" fill="#ffcccc"/>
<rect x="330.62" y="336.22" width="9.52" height="9.52" fill="#ff8080"/>
<rect x="349.57" y="336.22" width="9.52" height="9.52" fill="#ffb2b2"/>
<rect x="425.36" y="336.22" width="19.00" height="9.52" fill="#ff6666"/>
<rect x="453.78" y="336.22" width="9.52" height="9.52" fill="#ffe6e6"/>
<rect x="463.26" y="336.22" width="19.00" height="9.52" fill="#ff1919"/>
<rect x="482.21" y="336.22" width="9.52" height="9.52" fill="#ff6666"/>
<rect x="491.68" y="336.22" width="9.52" height="9.52" fill="#ffe6e6"/>
<rect x="311.67" y="345.69" width="9.52" height="9.52" fill="#ffb2b2"/>
<rect x="406.41" y="345.69" width="9.52" height="9.52" fill="#ffcccc"/>
<rect x="415.89" y="345.69" width="9.52" height="9.52" fill="#ff9999"/>
<rect x="444.31" y="345.69" width="9.52" height="9.52" fill="#ffd9d9"/>
<rect x="463.26" y="345.69" width="9.52" height="9.52" fill="#ffcccc"/>
<rect x="472.73" y="345.69" width="9.52" height="9.52" fill="#ffe6e6"/>
<rect x="482.21" y="345.69" width="9.52" height="9.52" fill="#ff6666"/>
<rect x="491.68" y="345.69" width="9.52" height="9.52" fill="#ffffff"/>
<rect x="340.10" y="355.17" width="9.52" height="9.52" fill="#ff1919"/>
<rect x="415.89" y="355.17" width="9.52" height="9.52" fill="#ffcccc"/>
<rect x="425.36" y="355.17" width="9.52" height="9.52" fill="#ff1919"/>
<rect x="434.84" y="355.17" width="9.52" height="9.52" fill="#ff6666"/>
<rect x="444.31" y="355.17" width="9.52" height="9.52" fill="#ffe6e6"/>
<rect x="453.78" y="355.17" width="9.52" height="9.52" fill="#ffcccc"/>
<rect x="463.26" y="355.17" width="9.52" height="9.52" fill="#ffb2b2"/>
<rect x="472.73" y="355.17" width="9.52" height="9.52" fill="#ffcccc"/>
<rect x="491.68" y="355.17" width="9.52" height="9.52" fill="#ffbfbf"/>
<rect x="472.73" y="364.64" width="9.52" height="9.52" fill="#ffb2b2"/>
<rect x="491.68" y="364.64" width="9.52" height="9.52" fill="#ffb2b2"/>
<rect x="415.89" y="374.11" width="19.00" height="9.52" fill="#ffbfbf"/>
<rect x="463.26" y="374.11" width="9.52" height="9.52" fill="#ff8080"/>
<rect x="472.73" y="374.11" width="9.52" height="9.52" fill="#ffcccc"/>
<rect x="482.21" y="374.11" width="9.52" height="9.52" fill="#ff3333"/>
<rect x="491.68" y="374.11" width="9.52" height="9.52" fill="#ffd9d9"/>
<rect x="330.62" y="383.59" width="9.52" height="9.52" fill="#ff8080"/>
<rect x="415.89" y="383.59" width="9.52" height="9.52" fill="#ff3333"/>
<rect x="434.84" y="383.59" width="19.00" height="9.52" fill="#ffcccc"/>
<rect x="453.78" y="383.59" width="9.52" height="9.52" fill="#ffffff"/>
<rect x="472.73" y="383.59" width="9.52" height="9.52" fill="#ffffff"/>
<rect x="425.36" y="393.06" width="9.52" height="9.52" fill="#ff4d4d"/>
<rect x="434.84" y="393.06" width="9.52" height="9.52" fill="#ff8080"/>
<rect x="444.31" y="393.06" width="9.52" height="9.52" fill="#ff3333"/>
<rect x="453.78" y="393.06" width="9.52" height="9.52" fill="#ffffff"/>
<rect x="463.26" y="393.06" width="9.52" height="9.52" fill="#ffe6e6"/>
<rect x="482.21" y="393.06" width="9.52" height="9.52" fill="#ff1919"/>
<rect x="491.68" y="393.06" width="9.52" height="9.52" fill="#ffe6e6"/>
<rect x="415.89" y="402.54" width="9.52" height="9.52" fill="#ffbfbf"/>
<rect x="434.84" y="402.54" width="9.52" height="9.52" fill="#ffb2b2"/>
<rect x="444.31" y="402.54" width="9.52" height="9.52" fill="#ffd9d9"/>
<rect x="453.78" y="402.54" width="9.52" height="9.52" fill="#ff8080"/>
<rect x="472.73" y="402.54" width="9.52" height="9.52" fill="#ffffff"/>
<rect x="491.68" y="402.54" width="9.52" height="9.52" fill="#ffffff"/>
<rect x="302.20" y="412.01" width="9.52" height="9.52" fill="#ffffff"/>
<rect x="330.62" y="412.01" width="9.52" height="9.52" fill="#ffcccc"/>
<rect x="340.10" y="412.01" width="9.52" height="9.52" fill="#ffffff"/>
<rect x="415.89" y="412.01" width="9.52" height="9.52" fill="#ffffff"/>
<rect x="444.31" y="412.01" width="19.00" height="9.52" fill="#ffffff"/>
<rect x="463.26" y="412.01" width="9.52" height="9.52" fill="#ffcccc"/>
<rect x="472.73" y="412.01" width="9.52" height="9.52" fill="#ffffff"/>
<rect x="482.21" y="412.01" width="9.52" height="9.52" fill="#ffbfbf"/>
<rect x="491.68" y="412.01" width="9.52" height="9.52" fill="#ffffff"/>
<rect x="425.36" y="421.48" width="9.52" height="9.52" fill="#ffe6e6"/>
<rect x="434.84" y="421.48" width="9.52" height="9.52" fill="#ffffff"/>
<rect x="444.31" y="421.48" width="9.52" height="9.52" fill="#ff9999"/>
<rect x="453.78" y="421.48" width="9.52" height="9.52" fill="#ffffff"/>
<rect x="463.26" y="421.48" width="9.52" height="9.52" fill="#ff8c8c"/>
<rect x="472.73" y="421.48" width="19.00" height="9.52" fill="#ffffff"/>
<rect x="415.89" y="430.96" width="9.52" height="9.52" fill="#ffffff"/>
<rect x="444.31" y="430.96" width="47.42" height="9.52" fill="#ffffff"/>
<rect x="415.89" y="440.43" width="9.52" height="9.52" fill="#ff1919"/>
<rect x="425.36" y="440.43" width="9.52" height="9.52" fill="#ffcccc"/>
<rect x="434.84" y="440.43" width="9.52" height="9.52" fill="#ffffff"/>
<rect x="463.26" y="440.43" width="37.95" height="9.52" fill="#ffffff"/>
<rect x="330.62" y="449.91" width="9.52" height="9.52" fill="#ff0d0d"/>
<rect x="425.36" y="449.91" width="9.52" height="9.52" fill="#ff8080"/>
<rect x="434.84" y="449.91" width="9.52" height="9.52" fill="#ff4d4d"/>
<rect x="453.78" y="449.91" width="9.52" height="9.52" fill="#ffffff"/>
<rect x="472.73" y="449.91" width="19.00" height="9.52" fill="#ffffff"/>
<rect x="406.41" y="459.38" width="9.52" height="9.52" fill="#ffffff"/>
<rect x="425.36" y="459.38" width="19.00" height="9.52" fill="#ffffff"/>
<rect x="453.78" y="459.38" width="9.52" height="9.52" fill="#ffffff"/>
<rect x="472.73" y="459.38" width="28.47" height="9.52" fill="#ffffff"/>
</g>
<path d="M302.20 269.90H501.15" fill="none" stroke="#4a4a4a" stroke-width="0.7"/>
<path d="M501.15 269.90V468.85" fill="none" stroke="#888" stroke-width="0.7"/>
<path d="M302.20 326.74h56.84v-56.84 M501.15 326.74h-56.84v-56.84 M302.20 412.01h56.84v56.84 M501.15 412.01h-56.84v56.84" fill="none" stroke="#1a1a1a" stroke-width="0.6"/>
<path d="M301.80 269.60V469.00H501.45" fill="none" stroke="#000" stroke-width="1.4"/>
<text class="k" text-anchor="end" x="300.20" y="276.74">-10.0</text>
<text class="x" text-anchor="end" transform="translate(309.14 470.65) rotate(-90)">-10.0</text>
<text class="k" text-anchor="end" x="300.20" y="286.21">-9.0</text>
<text class="x" text-anchor="end" transform="translate(318.61 470.65) rotate(-90)">-9.0</text>
<text class="k" text-anchor="end" x="300.20" y="295.69">-8.0</text>
<text class="x" text-anchor="end" transform="translate(328.08 470.65) rotate(-90)">-8.0</text>
<text class="k" text-anchor="end" x="300.20" y="305.16">-7.0</text>
<text class="x" text-anchor="end" transform="translate(337.56 470.65) rotate(-90)">-7.0</text>
<text class="k" text-anchor="end" x="300.20" y="314.63">-6.0</text>
<text class="x" text-anchor="end" transform="translate(347.03 470.65) rotate(-90)">-6.0</text>
<text class="k" text-anchor="end" x="300.20" y="324.11">-5.0</text>
<text class="x" text-anchor="end" transform="translate(356.51 470.65) rotate(-90)">-5.0</text>
<text class="k" text-anchor="end" x="300.20" y="333.58">-4.0</text>
<text class="x" text-anchor="end" transform="translate(365.98 470.65) rotate(-90)">-4.0</text>
<text class="k" text-anchor="end" x="300.20" y="343.06">-3.0</text>
<text class="x" text-anchor="end" transform="translate(375.45 470.65) rotate(-90)">-3.0</text>
<text class="k" text-anchor="end" x="300.20" y="352.53">-2.0</text>
<text class="x" text-anchor="end" transform="translate(384.93 470.65) rotate(-90)">-2.0</text>
<text class="k" text-anchor="end" x="300.20" y="362.00">-1.0</text>
<text class="x" text-anchor="end" transform="translate(394.40 470.65) rotate(-90)">-1.0</text>
<text class="k" text-anchor="end" x="300.20" y="371.48">0.0</text>
<text class="x" text-anchor="end" transform="translate(403.88 470.65) rotate(-90)">0.0</text>
<text class="k" text-anchor="end" x="300.20" y="380.95">1.0</text>
<text class="x" text-anchor="end" transform="translate(413.35 470.65) rotate(-90)">1.0</text>
<text class="k" text-anchor="end" x="300.20" y="390.43">2.0</text>
<text class="x" text-anchor="end" transform="translate(422.82 470.65) rotate(-90)">2.0</text>
<text class="k" text-anchor="end" x="300.20" y="399.90">3.0</text>
<text class="x" text-anchor="end" transform="translate(432.30 470.65) rotate(-90)">3.0</text>
<text class="k" text-anchor="end" x="300.20" y="409.37">4.0</text>
<text class="x" text-anchor="end" transform="translate(441.77 470.65) rotate(-90)">4.0</text>
<text class="k" text-anchor="end" x="300.20" y="418.85">5.0</text>
<text class="x" text-anchor="end" transform="translate(451.25 470.65) rotate(-90)">5.0</text>
<text class="k" text-anchor="end" x="300.20" y="428.32">6.0</text>
<text class="x" text-anchor="end" transform="translate(460.72 470.65) rotate(-90)">6.0</text>
<text class="k" text-anchor="end" x="300.20" y="437.80">7.0</text>
<text class="x" text-anchor="end" transform="translate(470.19 470.65) rotate(-90)">7.0</text>
<text class="k" text-anchor="end" x="300.20" y="447.27">8.0</text>
<text class="x" text-anchor="end" transform="translate(479.67 470.65) rotate(-90)">8.0</text>
<text class="k" text-anchor="end" x="300.20" y="456.74">9.0</text>
<text class="x" text-anchor="end" transform="translate(489.14 470.65) rotate(-90)">9.0</text>
<text class="k" text-anchor="end" x="300.20" y="466.22">10.0</text>
<text class="x" text-anchor="end" transform="translate(498.62 470.65) rotate(-90)">10.0</text>
<text class="n" text-anchor="middle" x="330.62" y="299.93">57.949</text>
<text class="n" text-anchor="middle" x="472.73" y="299.93">131.576</text>
<text class="n" text-anchor="middle" x="330.62" y="442.04">8.001</text>
<text class="n" text-anchor="middle" x="472.73" y="442.04">50.098</text>
<rect x="515.40" y="299.10" width="9.60" height="144.20" fill="url(#cb)" stroke="#888" stroke-width="0.8"/>
<text class="k" x="527.50" y="299.20">0.8</text>
<path d="M525.00 327.94h-2" stroke="#000" stroke-width="0.6"/>
<text class="k" x="527.50" y="328.04">0.6</text>
<path d="M525.00 356.78h-2" stroke="#000" stroke-width="0.6"/>
<text class="k" x="527.50" y="356.88">0.5</text>
<path d="M525.00 385.62h-2" stroke="#000" stroke-width="0.6"/>
<text class="k" x="527.50" y="385.72">0.3</text>
<path d="M525.00 414.46h-2" stroke="#000" stroke-width="0.6"/>
<text class="k" x="527.50" y="414.56">0.2</text>
<text class="k" x="527.50" y="443.40">0</text>
</g>
</svg></body></html>
